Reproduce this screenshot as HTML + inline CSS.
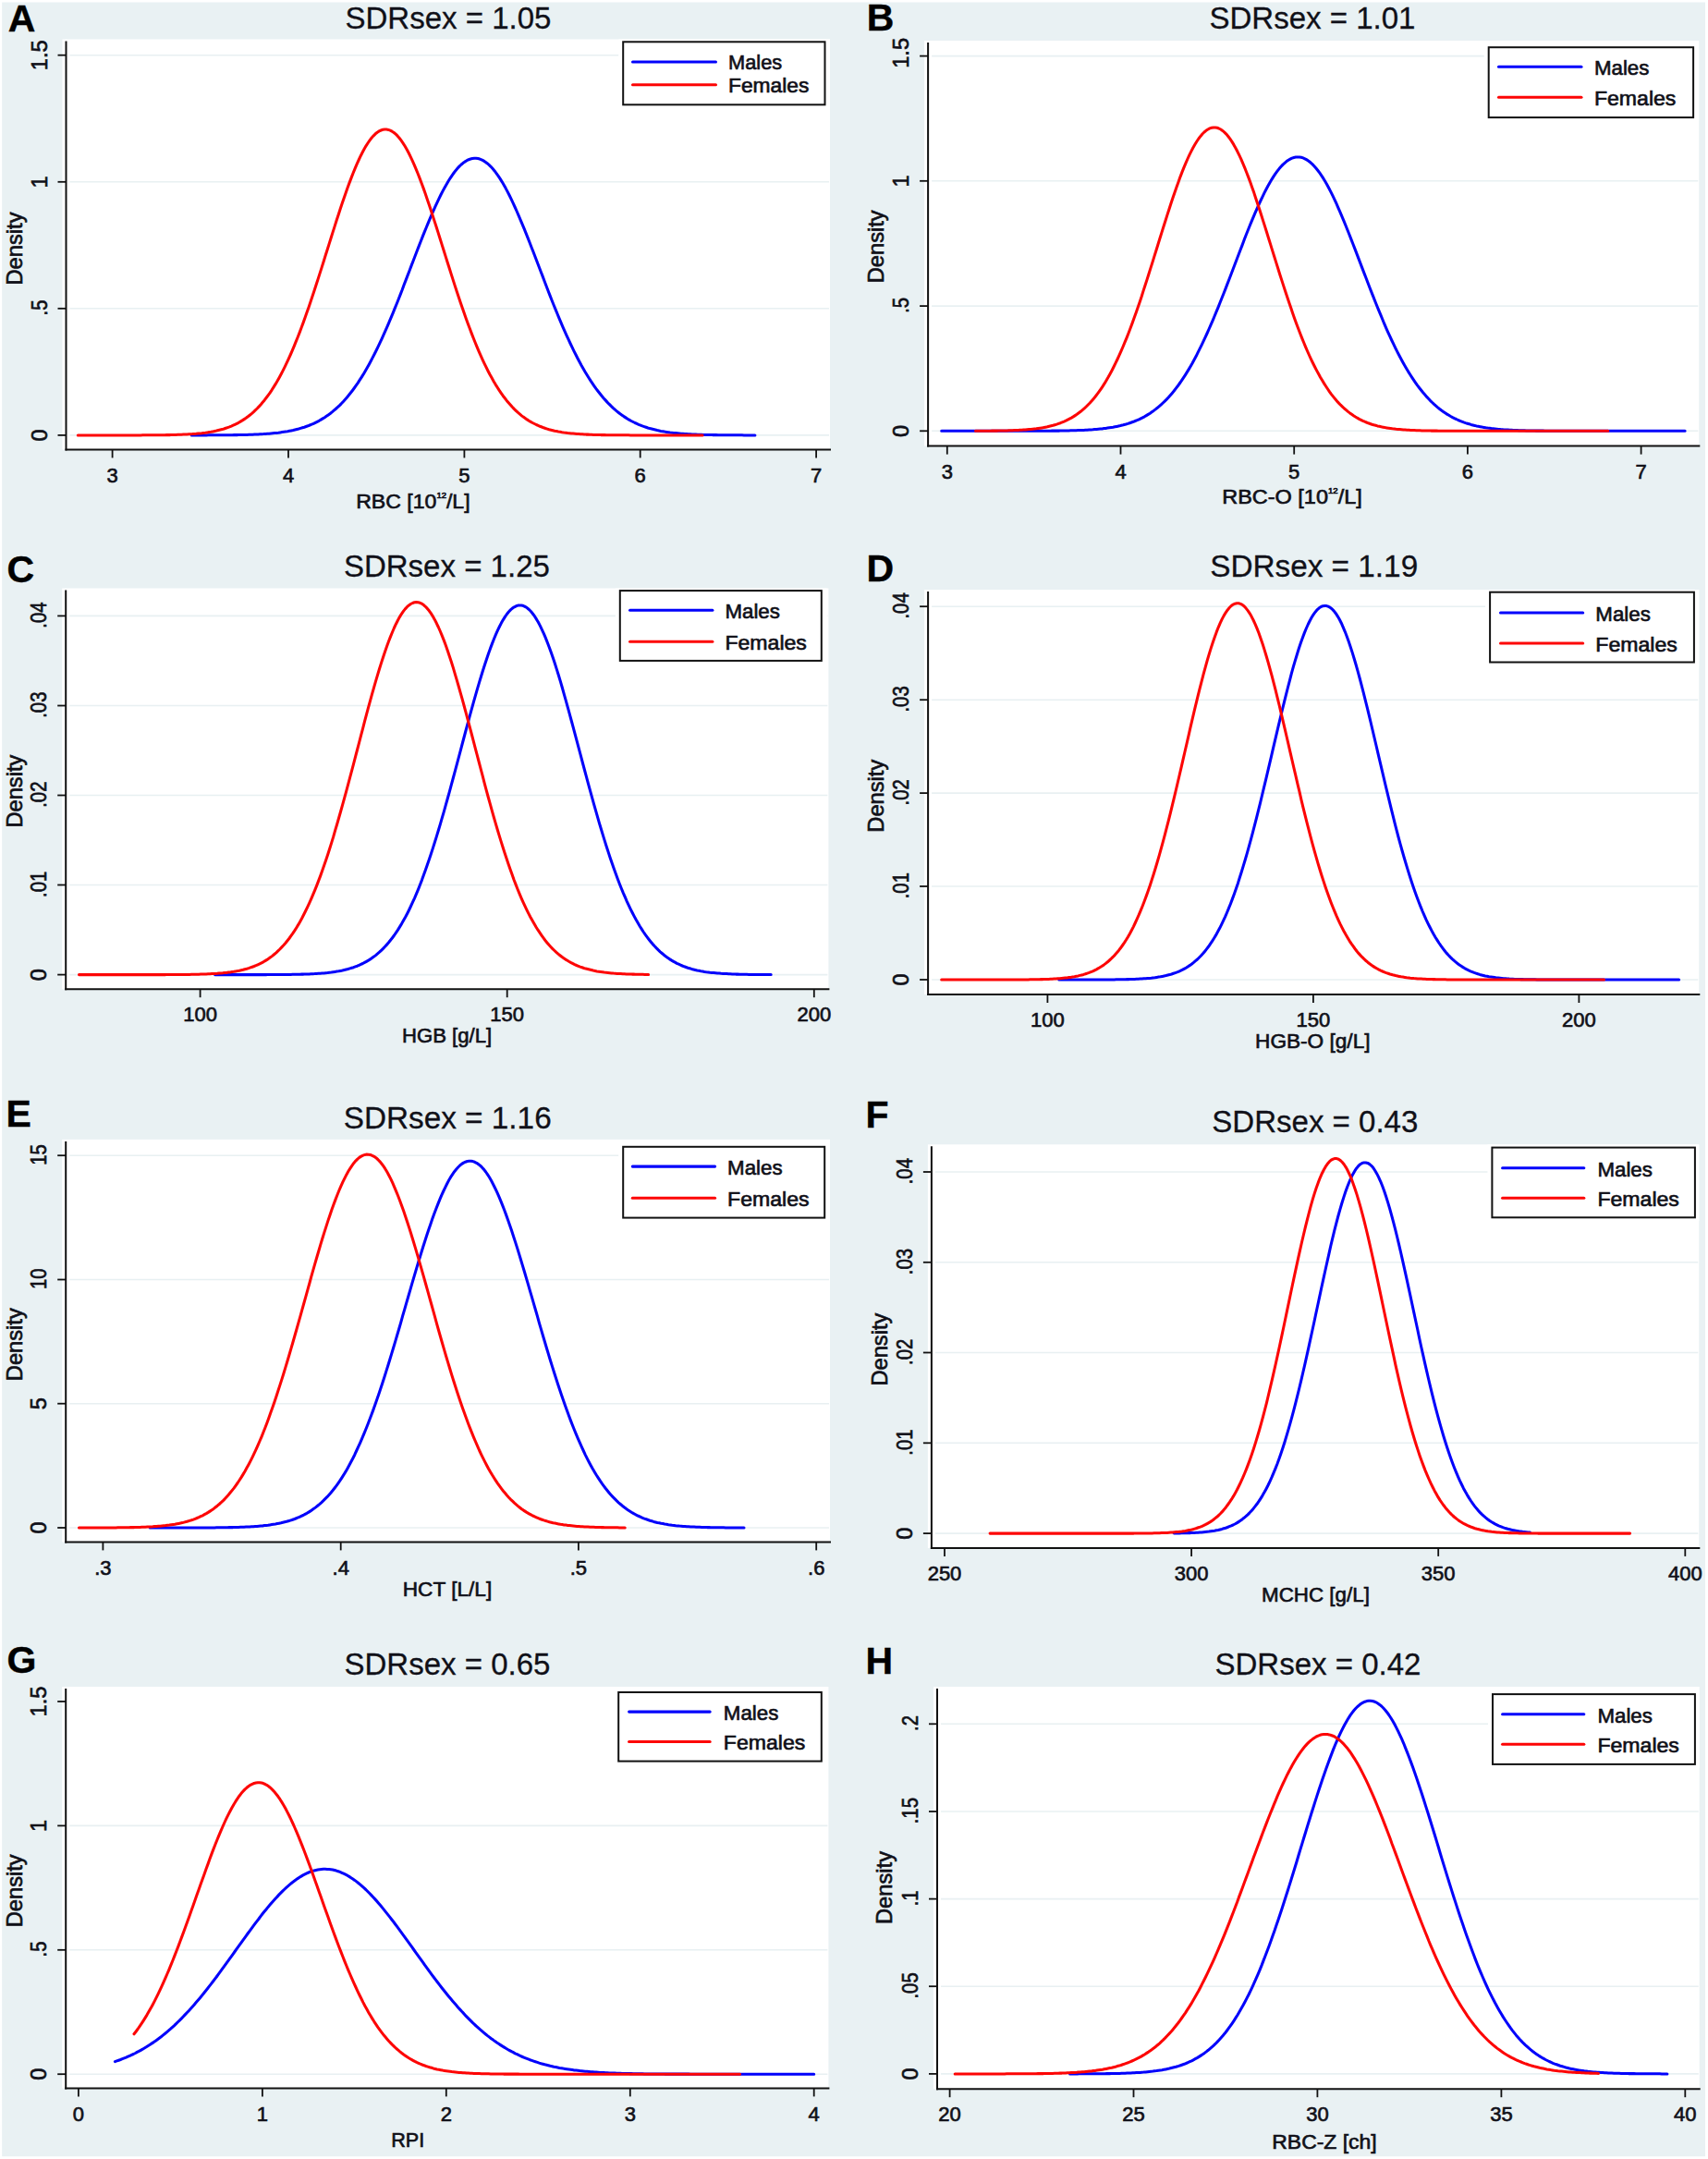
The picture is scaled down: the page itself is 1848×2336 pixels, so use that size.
<!DOCTYPE html>
<html lang="en">
<head>
<meta charset="utf-8">
<title>SDRsex density panels</title>
<style>
html,body{margin:0;padding:0;background:#fff;}
body{width:1848px;height:2336px;overflow:hidden;}
svg{display:block;font-family:"Liberation Sans",sans-serif;}
.t{font-size:22px;fill:#101018;stroke:#101018;stroke-width:.65;}
.ti{font-size:33.4px;fill:#101018;stroke:#101018;stroke-width:.3;}
.le{font-size:41px;font-weight:bold;fill:#000;stroke:#000;stroke-width:.4;}
.r{font-size:23.7px;}
.m{text-anchor:middle;}
.sup{font-size:9px;}
.g{stroke:#e8f0f2;stroke-width:1.6;}
.ax{stroke:#111;stroke-width:2;stroke-linecap:butt;}
.tk{stroke:#111;stroke-width:1.8;}
.lb{fill:#fff;stroke:#111;stroke-width:2;}
.cb{fill:none;stroke:#0202fb;stroke-width:3.05;stroke-linejoin:round;stroke-linecap:round;}
.cr{fill:none;stroke:#fd0505;stroke-width:3.05;stroke-linejoin:round;stroke-linecap:round;}
</style>
</head>
<body>
<svg width="1848" height="2336" viewBox="0 0 1848 2336">
<rect x="0" y="0" width="1848" height="2336" fill="#fff"/>
<rect x="2.2" y="2.5" width="1842.8" height="2330.7" fill="#e9f1f3"/>
<g class="panel">
<rect x="67.5" y="42.5" width="830.5" height="443.9" fill="#fff"/>
<line class="g" x1="75.5" y1="470.9" x2="897" y2="470.9"/>
<line class="g" x1="75.5" y1="333.8" x2="897" y2="333.8"/>
<line class="g" x1="75.5" y1="196.8" x2="897" y2="196.8"/>
<line class="g" x1="75.5" y1="59.7" x2="897" y2="59.7"/>
<polyline class="cb" points="207.3,470.9 209.3,470.9 211.3,470.9 213.3,470.9 215.3,470.9 217.3,470.9 219.3,470.9 221.3,470.9 223.3,470.9 225.3,470.8 227.3,470.8 229.3,470.8 231.3,470.8 233.3,470.8 235.3,470.8 237.3,470.8 239.3,470.8 241.3,470.8 243.3,470.7 245.3,470.7 247.3,470.7 249.3,470.7 251.3,470.7 253.3,470.6 255.3,470.6 257.3,470.6 259.3,470.5 261.3,470.5 263.3,470.5 265.3,470.4 267.3,470.4 269.3,470.3 271.3,470.2 273.3,470.2 275.3,470.1 277.3,470 279.3,469.9 281.3,469.8 283.3,469.7 285.2,469.6 287.2,469.4 289.2,469.3 291.2,469.2 293.2,469 295.2,468.8 297.2,468.6 299.2,468.4 301.2,468.2 303.2,467.9 305.2,467.6 307.2,467.3 309.2,467 311.2,466.7 313.2,466.3 315.2,465.9 317.2,465.5 319.2,465 321.2,464.5 323.2,464 325.2,463.4 327.2,462.8 329.2,462.2 331.2,461.5 333.2,460.8 335.2,460 337.2,459.2 339.2,458.3 341.2,457.3 343.2,456.3 345.2,455.3 347.2,454.1 349.2,452.9 351.2,451.7 353.2,450.3 355.2,448.9 357.2,447.5 359.2,445.9 361.2,444.2 363.2,442.5 365.2,440.7 367.2,438.8 369.2,436.8 371.2,434.7 373.2,432.5 375.2,430.2 377.2,427.8 379.2,425.3 381.2,422.7 383.2,420 385.2,417.2 387.2,414.3 389.2,411.2 391.2,408.1 393.2,404.9 395.2,401.5 397.2,398 399.2,394.4 401.2,390.7 403.2,386.9 405.2,383 407.2,379 409.2,374.9 411.2,370.7 413.2,366.4 415.2,361.9 417.2,357.4 419.2,352.8 421.2,348.2 423.2,343.4 425.2,338.6 427.2,333.7 429.2,328.7 431.2,323.7 433.2,318.6 435.2,313.5 437.1,308.3 439.1,303.1 441.1,297.9 443.1,292.7 445.1,287.4 447.1,282.2 449.1,277 451.1,271.8 453.1,266.6 455.1,261.5 457.1,256.4 459.1,251.4 461.1,246.5 463.1,241.6 465.1,236.8 467.1,232.1 469.1,227.6 471.1,223.1 473.1,218.8 475.1,214.6 477.1,210.5 479.1,206.6 481.1,202.9 483.1,199.4 485.1,196 487.1,192.8 489.1,189.8 491.1,187 493.1,184.4 495.1,182.1 497.1,179.9 499.1,178 501.1,176.3 503.1,174.9 505.1,173.7 507.1,172.7 509.1,172 511.1,171.5 513.1,171.3 515.1,171.3 517.1,171.6 519.1,172.1 521.1,172.9 523.1,173.9 525.1,175.2 527.1,176.7 529.1,178.4 531.1,180.3 533.1,182.5 535.1,184.9 537.1,187.6 539.1,190.4 541.1,193.4 543.1,196.6 545.1,200 547.1,203.6 549.1,207.4 551.1,211.3 553.1,215.4 555.1,219.6 557.1,224 559.1,228.5 561.1,233.1 563.1,237.8 565.1,242.6 567.1,247.4 569.1,252.4 571.1,257.4 573.1,262.5 575.1,267.7 577.1,272.8 579.1,278 581.1,283.3 583.1,288.5 585.1,293.7 587.1,298.9 589,304.1 591,309.3 593,314.5 595,319.6 597,324.7 599,329.7 601,334.6 603,339.5 605,344.3 607,349.1 609,353.8 611,358.3 613,362.8 615,367.2 617,371.5 619,375.7 621,379.8 623,383.8 625,387.7 627,391.5 629,395.2 631,398.7 633,402.2 635,405.5 637,408.7 639,411.9 641,414.9 643,417.8 645,420.6 647,423.2 649,425.8 651,428.3 653,430.7 655,432.9 657,435.1 659,437.2 661,439.2 663,441.1 665,442.9 667,444.6 669,446.2 671,447.8 673,449.2 675,450.6 677,451.9 679,453.2 681,454.4 683,455.5 685,456.5 687,457.5 689,458.4 691,459.3 693,460.1 695,460.9 697,461.6 699,462.3 701,463 703,463.6 705,464.1 707,464.6 709,465.1 711,465.6 713,466 715,466.4 717,466.7 719,467.1 721,467.4 723,467.7 725,468 727,468.2 729,468.4 731,468.6 733,468.8 735,469 737,469.2 739,469.3 740.9,469.5 742.9,469.6 744.9,469.7 746.9,469.8 748.9,469.9 750.9,470 752.9,470.1 754.9,470.2 756.9,470.2 758.9,470.3 760.9,470.4 762.9,470.4 764.9,470.5 766.9,470.5 768.9,470.5 770.9,470.6 772.9,470.6 774.9,470.6 776.9,470.7 778.9,470.7 780.9,470.7 782.9,470.7 784.9,470.8 786.9,470.8 788.9,470.8 790.9,470.8 792.9,470.8 794.9,470.8 796.9,470.8 798.9,470.8 800.9,470.8 802.9,470.8 804.9,470.9 806.9,470.9 808.9,470.9 810.9,470.9 812.9,470.9 814.9,470.9 816.9,470.9"/>
<polyline class="cr" points="84.3,470.9 86.3,470.9 88.3,470.9 90.3,470.9 92.3,470.9 94.3,470.9 96.3,470.9 98.3,470.9 100.3,470.9 102.3,470.9 104.3,470.9 106.3,470.9 108.3,470.9 110.3,470.9 112.3,470.9 114.3,470.9 116.3,470.9 118.3,470.9 120.3,470.9 122.3,470.9 124.3,470.9 126.3,470.9 128.3,470.9 130.3,470.9 132.3,470.9 134.3,470.9 136.3,470.9 138.3,470.9 140.3,470.9 142.3,470.9 144.3,470.9 146.3,470.9 148.3,470.9 150.3,470.9 152.3,470.9 154.3,470.8 156.3,470.8 158.3,470.8 160.3,470.8 162.3,470.8 164.3,470.8 166.3,470.8 168.3,470.8 170.3,470.8 172.3,470.7 174.3,470.7 176.3,470.7 178.3,470.7 180.3,470.6 182.3,470.6 184.3,470.6 186.3,470.5 188.3,470.5 190.3,470.4 192.3,470.3 194.3,470.3 196.3,470.2 198.3,470.1 200.3,470 202.3,469.9 204.3,469.8 206.3,469.7 208.3,469.6 210.3,469.4 212.3,469.3 214.3,469.1 216.3,468.9 218.3,468.7 220.3,468.4 222.3,468.2 224.3,467.9 226.3,467.6 228.3,467.3 230.3,466.9 232.3,466.5 234.3,466.1 236.3,465.6 238.3,465.1 240.3,464.6 242.3,464 244.3,463.3 246.3,462.6 248.3,461.9 250.3,461.1 252.3,460.2 254.2,459.3 256.2,458.3 258.2,457.3 260.2,456.1 262.2,454.9 264.2,453.6 266.2,452.3 268.2,450.8 270.2,449.2 272.2,447.6 274.2,445.8 276.2,443.9 278.2,442 280.2,439.9 282.2,437.7 284.2,435.3 286.2,432.9 288.2,430.3 290.2,427.6 292.2,424.8 294.2,421.8 296.2,418.6 298.2,415.4 300.2,412 302.2,408.4 304.2,404.7 306.2,400.9 308.2,396.9 310.2,392.7 312.2,388.4 314.2,384 316.2,379.4 318.2,374.6 320.2,369.7 322.2,364.7 324.2,359.6 326.2,354.3 328.2,348.9 330.2,343.3 332.2,337.6 334.2,331.9 336.2,326 338.2,320 340.2,314 342.2,307.8 344.2,301.6 346.2,295.4 348.2,289.1 350.2,282.7 352.2,276.3 354.2,270 356.2,263.6 358.2,257.2 360.2,250.9 362.2,244.6 364.2,238.3 366.2,232.2 368.2,226.1 370.2,220.1 372.2,214.2 374.2,208.4 376.2,202.8 378.2,197.4 380.2,192.1 382.2,187 384.2,182.1 386.2,177.4 388.2,173 390.2,168.7 392.2,164.8 394.2,161.1 396.2,157.6 398.2,154.5 400.2,151.6 402.2,149 404.2,146.8 406.2,144.8 408.2,143.2 410.2,141.9 412.2,141 414.2,140.3 416.2,140 418.2,140.1 420.2,140.4 422.2,141.1 424.2,142.2 426.2,143.5 428.2,145.2 430.2,147.2 432.2,149.5 434.2,152.2 436.2,155.1 438.2,158.3 440.2,161.8 442.2,165.5 444.2,169.6 446.2,173.8 448.2,178.3 450.2,183.1 452.2,188 454.2,193.1 456.2,198.5 458.2,203.9 460.2,209.6 462.2,215.4 464.2,221.3 466.2,227.3 468.2,233.4 470.2,239.6 472.2,245.8 474.2,252.1 476.2,258.5 478.2,264.9 480.2,271.3 482.2,277.6 484.2,284 486.2,290.3 488.2,296.6 490.2,302.9 492.2,309.1 494.2,315.2 496.2,321.2 498.2,327.2 500.2,333 502.2,338.8 504.2,344.4 506.2,350 508.2,355.3 510.2,360.6 512.2,365.7 514.2,370.7 516.2,375.6 518.2,380.3 520.2,384.9 522.2,389.3 524.2,393.6 526.2,397.7 528.2,401.7 530.2,405.5 532.2,409.1 534.2,412.7 536.2,416.1 538.2,419.3 540.2,422.4 542.2,425.3 544.2,428.2 546.2,430.8 548.2,433.4 550.2,435.8 552.2,438.1 554.2,440.3 556.2,442.4 558.2,444.3 560.2,446.2 562.2,447.9 564.2,449.6 566.2,451.1 568.2,452.5 570.2,453.9 572.2,455.2 574.2,456.4 576.2,457.5 578.2,458.5 580.2,459.5 582.2,460.4 584.2,461.3 586.2,462 588.2,462.8 590.2,463.5 592.1,464.1 594.1,464.7 596.1,465.2 598.1,465.7 600.1,466.2 602.1,466.6 604.1,467 606.1,467.3 608.1,467.7 610.1,468 612.1,468.2 614.1,468.5 616.1,468.7 618.1,468.9 620.1,469.1 622.1,469.3 624.1,469.5 626.1,469.6 628.1,469.7 630.1,469.8 632.1,470 634.1,470.1 636.1,470.1 638.1,470.2 640.1,470.3 642.1,470.4 644.1,470.4 646.1,470.5 648.1,470.5 650.1,470.6 652.1,470.6 654.1,470.6 656.1,470.7 658.1,470.7 660.1,470.7 662.1,470.7 664.1,470.8 666.1,470.8 668.1,470.8 670.1,470.8 672.1,470.8 674.1,470.8 676.1,470.8 678.1,470.8 680.1,470.8 682.1,470.9 684.1,470.9 686.1,470.9 688.1,470.9 690.1,470.9 692.1,470.9 694.1,470.9 696.1,470.9 698.1,470.9 700.1,470.9 702.1,470.9 704.1,470.9 706.1,470.9 708.1,470.9 710.1,470.9 712.1,470.9 714.1,470.9 716.1,470.9 718.1,470.9 720.1,470.9 722.1,470.9 724.1,470.9 726.1,470.9 728.1,470.9 730.1,470.9 732.1,470.9 734.1,470.9 736.1,470.9 738.1,470.9 740.1,470.9 742.1,470.9 744.1,470.9 746.1,470.9 748.1,470.9 750.1,470.9 752.1,470.9 754.1,470.9 756.1,470.9 758.1,470.9 760.1,470.9"/>
<line class="ax" x1="71.5" y1="44.5" x2="71.5" y2="487.4"/>
<line class="ax" x1="70.5" y1="486.4" x2="899" y2="486.4"/>
<line class="tk" x1="62.5" y1="470.9" x2="71.5" y2="470.9"/>
<text class="t r m" transform="translate(50.5 470.9) rotate(-90)">0</text>
<line class="tk" x1="62.5" y1="333.8" x2="71.5" y2="333.8"/>
<text class="t r m" transform="translate(50.5 333) rotate(-90) scale(.86 1)">.5</text>
<line class="tk" x1="62.5" y1="196.8" x2="71.5" y2="196.8"/>
<text class="t r m" transform="translate(50.5 196.8) rotate(-90)">1</text>
<line class="tk" x1="62.5" y1="59.7" x2="71.5" y2="59.7"/>
<text class="t r m" transform="translate(50.5 59.7) rotate(-90)">1.5</text>
<line class="tk" x1="121.6" y1="486.4" x2="121.6" y2="495.4"/>
<text class="t m" x="121.6" y="521.6">3</text>
<line class="tk" x1="312" y1="486.4" x2="312" y2="495.4"/>
<text class="t m" x="312" y="521.6">4</text>
<line class="tk" x1="502.4" y1="486.4" x2="502.4" y2="495.4"/>
<text class="t m" x="502.4" y="521.6">5</text>
<line class="tk" x1="692.7" y1="486.4" x2="692.7" y2="495.4"/>
<text class="t m" x="692.7" y="521.6">6</text>
<line class="tk" x1="883.1" y1="486.4" x2="883.1" y2="495.4"/>
<text class="t m" x="883.1" y="521.6">7</text>
<text class="t m" x="446.9" y="550.3" textLength="123.5" lengthAdjust="spacingAndGlyphs">RBC [10<tspan class="sup" dy="-11">12</tspan><tspan dy="11">/L]</tspan></text>
<text class="t r m" transform="translate(24 269) rotate(-90)">Density</text>
<text class="ti m" x="485" y="31" textLength="223" lengthAdjust="spacingAndGlyphs">SDRsex = 1.05</text>
<text class="le" x="8.7" y="33.6">A</text>
<rect x="669.2" y="42.5" width="228.8" height="74.8" fill="#fff"/>
<rect class="lb" x="674.2" y="45.3" width="218.3" height="68"/>
<line class="cb" x1="684.5" y1="66.9" x2="774.5" y2="66.9"/>
<line class="cr" x1="684.5" y1="91.8" x2="774.5" y2="91.8"/>
<text class="t" x="788" y="75.3" textLength="58.2" lengthAdjust="spacingAndGlyphs">Males</text>
<text class="t" x="788" y="100.2" textLength="87.3" lengthAdjust="spacingAndGlyphs">Females</text>
</g>
<g class="panel">
<rect x="1000.1" y="44" width="838.2" height="438.6" fill="#fff"/>
<line class="g" x1="1008.1" y1="466.3" x2="1837.3" y2="466.3"/>
<line class="g" x1="1008.1" y1="331.1" x2="1837.3" y2="331.1"/>
<line class="g" x1="1008.1" y1="195.8" x2="1837.3" y2="195.8"/>
<line class="g" x1="1008.1" y1="60.6" x2="1837.3" y2="60.6"/>
<polyline class="cb" points="1018.7,466.3 1020.7,466.3 1022.7,466.3 1024.7,466.3 1026.7,466.3 1028.7,466.3 1030.7,466.3 1032.7,466.3 1034.7,466.3 1036.7,466.3 1038.7,466.3 1040.7,466.3 1042.7,466.3 1044.6,466.3 1046.6,466.3 1048.6,466.3 1050.6,466.3 1052.6,466.3 1054.6,466.3 1056.6,466.3 1058.6,466.3 1060.6,466.3 1062.6,466.3 1064.6,466.3 1066.6,466.3 1068.6,466.3 1070.6,466.3 1072.6,466.3 1074.6,466.3 1076.6,466.3 1078.6,466.3 1080.6,466.3 1082.6,466.3 1084.6,466.3 1086.6,466.3 1088.6,466.3 1090.6,466.3 1092.6,466.3 1094.5,466.3 1096.5,466.3 1098.5,466.3 1100.5,466.3 1102.5,466.3 1104.5,466.3 1106.5,466.3 1108.5,466.3 1110.5,466.3 1112.5,466.3 1114.5,466.3 1116.5,466.3 1118.5,466.3 1120.5,466.2 1122.5,466.2 1124.5,466.2 1126.5,466.2 1128.5,466.2 1130.5,466.2 1132.5,466.2 1134.5,466.2 1136.5,466.2 1138.5,466.1 1140.5,466.1 1142.5,466.1 1144.4,466.1 1146.4,466.1 1148.4,466 1150.4,466 1152.4,466 1154.4,465.9 1156.4,465.9 1158.4,465.8 1160.4,465.8 1162.4,465.7 1164.4,465.7 1166.4,465.6 1168.4,465.5 1170.4,465.4 1172.4,465.4 1174.4,465.3 1176.4,465.2 1178.4,465 1180.4,464.9 1182.4,464.8 1184.4,464.6 1186.4,464.5 1188.4,464.3 1190.4,464.1 1192.4,463.9 1194.4,463.6 1196.3,463.4 1198.3,463.1 1200.3,462.8 1202.3,462.5 1204.3,462.2 1206.3,461.8 1208.3,461.4 1210.3,461 1212.3,460.6 1214.3,460.1 1216.3,459.5 1218.3,459 1220.3,458.4 1222.3,457.7 1224.3,457 1226.3,456.3 1228.3,455.5 1230.3,454.7 1232.3,453.8 1234.3,452.8 1236.3,451.8 1238.3,450.8 1240.3,449.6 1242.3,448.4 1244.3,447.2 1246.2,445.8 1248.2,444.4 1250.2,442.9 1252.2,441.3 1254.2,439.6 1256.2,437.9 1258.2,436 1260.2,434.1 1262.2,432.1 1264.2,430 1266.2,427.7 1268.2,425.4 1270.2,423 1272.2,420.4 1274.2,417.8 1276.2,415 1278.2,412.2 1280.2,409.2 1282.2,406.1 1284.2,402.9 1286.2,399.6 1288.2,396.2 1290.2,392.7 1292.2,389 1294.2,385.3 1296.1,381.4 1298.1,377.4 1300.1,373.3 1302.1,369.2 1304.1,364.9 1306.1,360.5 1308.1,356 1310.1,351.4 1312.1,346.8 1314.1,342 1316.1,337.2 1318.1,332.3 1320.1,327.3 1322.1,322.3 1324.1,317.2 1326.1,312.1 1328.1,306.9 1330.1,301.7 1332.1,296.5 1334.1,291.3 1336.1,286 1338.1,280.8 1340.1,275.5 1342.1,270.3 1344.1,265.1 1346,259.9 1348,254.8 1350,249.8 1352,244.8 1354,239.9 1356,235.1 1358,230.4 1360,225.8 1362,221.3 1364,217 1366,212.8 1368,208.7 1370,204.8 1372,201.1 1374,197.5 1376,194.1 1378,190.9 1380,187.9 1382,185.2 1384,182.6 1386,180.3 1388,178.1 1390,176.3 1392,174.6 1394,173.2 1395.9,172.1 1397.9,171.1 1399.9,170.5 1401.9,170.1 1403.9,169.9 1405.9,170 1407.9,170.3 1409.9,170.9 1411.9,171.8 1413.9,172.9 1415.9,174.2 1417.9,175.8 1419.9,177.6 1421.9,179.7 1423.9,182 1425.9,184.5 1427.9,187.2 1429.9,190.1 1431.9,193.2 1433.9,196.6 1435.9,200.1 1437.9,203.8 1439.9,207.6 1441.9,211.7 1443.9,215.8 1445.9,220.2 1447.8,224.6 1449.8,229.2 1451.8,233.8 1453.8,238.6 1455.8,243.5 1457.8,248.5 1459.8,253.5 1461.8,258.6 1463.8,263.7 1465.8,268.9 1467.8,274.1 1469.8,279.4 1471.8,284.6 1473.8,289.9 1475.8,295.1 1477.8,300.3 1479.8,305.5 1481.8,310.7 1483.8,315.9 1485.8,320.9 1487.8,326 1489.8,331 1491.8,335.9 1493.8,340.7 1495.8,345.5 1497.7,350.2 1499.7,354.8 1501.7,359.3 1503.7,363.7 1505.7,368 1507.7,372.2 1509.7,376.4 1511.7,380.4 1513.7,384.3 1515.7,388 1517.7,391.7 1519.7,395.3 1521.7,398.7 1523.7,402.1 1525.7,405.3 1527.7,408.4 1529.7,411.4 1531.7,414.3 1533.7,417.1 1535.7,419.7 1537.7,422.3 1539.7,424.8 1541.7,427.1 1543.7,429.4 1545.7,431.5 1547.6,433.6 1549.6,435.5 1551.6,437.4 1553.6,439.2 1555.6,440.9 1557.6,442.5 1559.6,444 1561.6,445.4 1563.6,446.8 1565.6,448.1 1567.6,449.3 1569.6,450.5 1571.6,451.6 1573.6,452.6 1575.6,453.5 1577.6,454.5 1579.6,455.3 1581.6,456.1 1583.6,456.9 1585.6,457.6 1587.6,458.2 1589.6,458.8 1591.6,459.4 1593.6,459.9 1595.6,460.4 1597.5,460.9 1599.5,461.3 1601.5,461.7 1603.5,462.1 1605.5,462.4 1607.5,462.8 1609.5,463.1 1611.5,463.3 1613.5,463.6 1615.5,463.8 1617.5,464 1619.5,464.2 1621.5,464.4 1623.5,464.6 1625.5,464.7 1627.5,464.9 1629.5,465 1631.5,465.1 1633.5,465.2 1635.5,465.3 1637.5,465.4 1639.5,465.5 1641.5,465.6 1643.5,465.7 1645.5,465.7 1647.4,465.8 1649.4,465.8 1651.4,465.9 1653.4,465.9 1655.4,466 1657.4,466 1659.4,466 1661.4,466.1 1663.4,466.1 1665.4,466.1 1667.4,466.1 1669.4,466.1 1671.4,466.2 1673.4,466.2 1675.4,466.2 1677.4,466.2 1679.4,466.2 1681.4,466.2 1683.4,466.2 1685.4,466.2 1687.4,466.2 1689.4,466.3 1691.4,466.3 1693.4,466.3 1695.4,466.3 1697.4,466.3 1699.3,466.3 1701.3,466.3 1703.3,466.3 1705.3,466.3 1707.3,466.3 1709.3,466.3 1711.3,466.3 1713.3,466.3 1715.3,466.3 1717.3,466.3 1719.3,466.3 1721.3,466.3 1723.3,466.3 1725.3,466.3 1727.3,466.3 1729.3,466.3 1731.3,466.3 1733.3,466.3 1735.3,466.3 1737.3,466.3 1739.3,466.3 1741.3,466.3 1743.3,466.3 1745.3,466.3 1747.3,466.3 1749.2,466.3 1751.2,466.3 1753.2,466.3 1755.2,466.3 1757.2,466.3 1759.2,466.3 1761.2,466.3 1763.2,466.3 1765.2,466.3 1767.2,466.3 1769.2,466.3 1771.2,466.3 1773.2,466.3 1775.2,466.3 1777.2,466.3 1779.2,466.3 1781.2,466.3 1783.2,466.3 1785.2,466.3 1787.2,466.3 1789.2,466.3 1791.2,466.3 1793.2,466.3 1795.2,466.3 1797.2,466.3 1799.1,466.3 1801.1,466.3 1803.1,466.3 1805.1,466.3 1807.1,466.3 1809.1,466.3 1811.1,466.3 1813.1,466.3 1815.1,466.3 1817.1,466.3 1819.1,466.3 1821.1,466.3 1823.1,466.3"/>
<polyline class="cr" points="1055.5,466.2 1057.5,466.2 1059.5,466.2 1061.5,466.2 1063.5,466.2 1065.5,466.2 1067.5,466.2 1069.5,466.2 1071.5,466.2 1073.5,466.1 1075.5,466.1 1077.4,466.1 1079.4,466.1 1081.4,466 1083.4,466 1085.4,466 1087.4,465.9 1089.4,465.9 1091.4,465.8 1093.4,465.7 1095.4,465.7 1097.4,465.6 1099.4,465.5 1101.4,465.4 1103.4,465.3 1105.4,465.2 1107.4,465.1 1109.4,465 1111.4,464.8 1113.4,464.6 1115.4,464.4 1117.3,464.2 1119.3,464 1121.3,463.8 1123.3,463.5 1125.3,463.2 1127.3,462.9 1129.3,462.6 1131.3,462.2 1133.3,461.8 1135.3,461.3 1137.3,460.8 1139.3,460.3 1141.3,459.7 1143.3,459.1 1145.3,458.4 1147.3,457.7 1149.3,456.9 1151.3,456.1 1153.3,455.2 1155.3,454.2 1157.2,453.2 1159.2,452.1 1161.2,450.9 1163.2,449.6 1165.2,448.3 1167.2,446.8 1169.2,445.3 1171.2,443.6 1173.2,441.9 1175.2,440 1177.2,438 1179.2,436 1181.2,433.8 1183.2,431.4 1185.2,429 1187.2,426.4 1189.2,423.7 1191.2,420.8 1193.2,417.8 1195.2,414.7 1197.1,411.4 1199.1,408 1201.1,404.4 1203.1,400.7 1205.1,396.8 1207.1,392.7 1209.1,388.5 1211.1,384.2 1213.1,379.7 1215.1,375 1217.1,370.2 1219.1,365.3 1221.1,360.2 1223.1,355 1225.1,349.6 1227.1,344.1 1229.1,338.5 1231.1,332.8 1233.1,326.9 1235.1,321 1237,314.9 1239,308.8 1241,302.6 1243,296.3 1245,289.9 1247,283.6 1249,277.1 1251,270.7 1253,264.3 1255,257.8 1257,251.4 1259,245 1261,238.7 1263,232.4 1265,226.2 1267,220.1 1269,214.1 1271,208.3 1273,202.6 1275,197 1276.9,191.6 1278.9,186.4 1280.9,181.4 1282.9,176.6 1284.9,172 1286.9,167.6 1288.9,163.6 1290.9,159.7 1292.9,156.2 1294.9,153 1296.9,150 1298.9,147.4 1300.9,145 1302.9,143 1304.9,141.3 1306.9,140 1308.9,138.9 1310.9,138.3 1312.9,137.9 1314.9,137.9 1316.9,138.3 1318.8,139 1320.8,140 1322.8,141.4 1324.8,143.1 1326.8,145.1 1328.8,147.5 1330.8,150.2 1332.8,153.1 1334.8,156.4 1336.8,160 1338.8,163.8 1340.8,167.9 1342.8,172.2 1344.8,176.8 1346.8,181.6 1348.8,186.7 1350.8,191.9 1352.8,197.3 1354.8,202.9 1356.8,208.6 1358.7,214.5 1360.7,220.5 1362.7,226.6 1364.7,232.8 1366.7,239.1 1368.7,245.4 1370.7,251.8 1372.7,258.2 1374.7,264.6 1376.7,271.1 1378.7,277.5 1380.7,283.9 1382.7,290.3 1384.7,296.7 1386.7,302.9 1388.7,309.1 1390.7,315.3 1392.7,321.3 1394.7,327.3 1396.7,333.1 1398.6,338.8 1400.6,344.4 1402.6,349.9 1404.6,355.3 1406.6,360.5 1408.6,365.6 1410.6,370.5 1412.6,375.3 1414.6,380 1416.6,384.5 1418.6,388.8 1420.6,393 1422.6,397 1424.6,400.9 1426.6,404.6 1428.6,408.2 1430.6,411.6 1432.6,414.9 1434.6,418 1436.6,421 1438.5,423.8 1440.5,426.6 1442.5,429.1 1444.5,431.6 1446.5,433.9 1448.5,436.1 1450.5,438.2 1452.5,440.1 1454.5,442 1456.5,443.7 1458.5,445.4 1460.5,446.9 1462.5,448.3 1464.5,449.7 1466.5,451 1468.5,452.2 1470.5,453.3 1472.5,454.3 1474.5,455.3 1476.5,456.2 1478.4,457 1480.4,457.8 1482.4,458.5 1484.4,459.2 1486.4,459.8 1488.4,460.3 1490.4,460.9 1492.4,461.3 1494.4,461.8 1496.4,462.2 1498.4,462.6 1500.4,462.9 1502.4,463.2 1504.4,463.5 1506.4,463.8 1508.4,464 1510.4,464.3 1512.4,464.5 1514.4,464.6 1516.4,464.8 1518.4,465 1520.3,465.1 1522.3,465.2 1524.3,465.3 1526.3,465.4 1528.3,465.5 1530.3,465.6 1532.3,465.7 1534.3,465.8 1536.3,465.8 1538.3,465.9 1540.3,465.9 1542.3,466 1544.3,466 1546.3,466 1548.3,466.1 1550.3,466.1 1552.3,466.1 1554.3,466.1 1556.3,466.2 1558.3,466.2 1560.2,466.2 1562.2,466.2 1564.2,466.2 1566.2,466.2 1568.2,466.2 1570.2,466.2 1572.2,466.2 1574.2,466.3 1576.2,466.3 1578.2,466.3 1580.2,466.3 1582.2,466.3 1584.2,466.3 1586.2,466.3 1588.2,466.3 1590.2,466.3 1592.2,466.3 1594.2,466.3 1596.2,466.3 1598.2,466.3 1600.1,466.3 1602.1,466.3 1604.1,466.3 1606.1,466.3 1608.1,466.3 1610.1,466.3 1612.1,466.3 1614.1,466.3 1616.1,466.3 1618.1,466.3 1620.1,466.3 1622.1,466.3 1624.1,466.3 1626.1,466.3 1628.1,466.3 1630.1,466.3 1632.1,466.3 1634.1,466.3 1636.1,466.3 1638.1,466.3 1640,466.3 1642,466.3 1644,466.3 1646,466.3 1648,466.3 1650,466.3 1652,466.3 1654,466.3 1656,466.3 1658,466.3 1660,466.3 1662,466.3 1664,466.3 1666,466.3 1668,466.3 1670,466.3 1672,466.3 1674,466.3 1676,466.3 1678,466.3 1679.9,466.3 1681.9,466.3 1683.9,466.3 1685.9,466.3 1687.9,466.3 1689.9,466.3 1691.9,466.3 1693.9,466.3 1695.9,466.3 1697.9,466.3 1699.9,466.3 1701.9,466.3 1703.9,466.3 1705.9,466.3 1707.9,466.3 1709.9,466.3 1711.9,466.3 1713.9,466.3 1715.9,466.3 1717.9,466.3 1719.8,466.3 1721.8,466.3 1723.8,466.3 1725.8,466.3 1727.8,466.3 1729.8,466.3 1731.8,466.3 1733.8,466.3 1735.8,466.3 1737.8,466.3 1739.8,466.3"/>
<line class="ax" x1="1004.1" y1="46" x2="1004.1" y2="483.6"/>
<line class="ax" x1="1003.1" y1="482.6" x2="1839.3" y2="482.6"/>
<line class="tk" x1="995.1" y1="466.3" x2="1004.1" y2="466.3"/>
<text class="t r m" transform="translate(983.1 466.3) rotate(-90)">0</text>
<line class="tk" x1="995.1" y1="331.1" x2="1004.1" y2="331.1"/>
<text class="t r m" transform="translate(983.1 330.3) rotate(-90) scale(.86 1)">.5</text>
<line class="tk" x1="995.1" y1="195.8" x2="1004.1" y2="195.8"/>
<text class="t r m" transform="translate(983.1 195.8) rotate(-90)">1</text>
<line class="tk" x1="995.1" y1="60.6" x2="1004.1" y2="60.6"/>
<text class="t r m" transform="translate(983.1 57.4) rotate(-90)">1.5</text>
<line class="tk" x1="1024.8" y1="482.6" x2="1024.8" y2="491.6"/>
<text class="t m" x="1024.8" y="517.8">3</text>
<line class="tk" x1="1212.5" y1="482.6" x2="1212.5" y2="491.6"/>
<text class="t m" x="1212.5" y="517.8">4</text>
<line class="tk" x1="1400.2" y1="482.6" x2="1400.2" y2="491.6"/>
<text class="t m" x="1400.2" y="517.8">5</text>
<line class="tk" x1="1587.9" y1="482.6" x2="1587.9" y2="491.6"/>
<text class="t m" x="1587.9" y="517.8">6</text>
<line class="tk" x1="1775.6" y1="482.6" x2="1775.6" y2="491.6"/>
<text class="t m" x="1775.6" y="517.8">7</text>
<text class="t m" x="1398" y="545.4" textLength="151.5" lengthAdjust="spacingAndGlyphs">RBC-O [10<tspan class="sup" dy="-11">12</tspan><tspan dy="11">/L]</tspan></text>
<text class="t r m" transform="translate(956.3 266.8) rotate(-90)">Density</text>
<text class="ti m" x="1420" y="31" textLength="223" lengthAdjust="spacingAndGlyphs">SDRsex = 1.01</text>
<text class="le" x="937.8" y="33.4">B</text>
<rect x="1605.7" y="47.2" width="232.4" height="83.9" fill="#fff"/>
<rect class="lb" x="1610.7" y="51.2" width="221.4" height="75.9"/>
<line class="cb" x1="1621.5" y1="72.3" x2="1711" y2="72.3"/>
<line class="cr" x1="1621.5" y1="105.2" x2="1711" y2="105.2"/>
<text class="t" x="1724.9" y="81.2" textLength="59.5" lengthAdjust="spacingAndGlyphs">Males</text>
<text class="t" x="1724.9" y="114.1" textLength="88.5" lengthAdjust="spacingAndGlyphs">Females</text>
</g>
<g class="panel">
<rect x="67.2" y="636.5" width="829.2" height="433.7" fill="#fff"/>
<line class="g" x1="75.2" y1="1054.6" x2="895.4" y2="1054.6"/>
<line class="g" x1="75.2" y1="957.5" x2="895.4" y2="957.5"/>
<line class="g" x1="75.2" y1="860.5" x2="895.4" y2="860.5"/>
<line class="g" x1="75.2" y1="763.5" x2="895.4" y2="763.5"/>
<line class="g" x1="75.2" y1="666.4" x2="895.4" y2="666.4"/>
<polyline class="cb" points="232.6,1054.6 234.6,1054.6 236.6,1054.6 238.6,1054.6 240.6,1054.6 242.6,1054.6 244.6,1054.6 246.6,1054.6 248.6,1054.6 250.6,1054.6 252.6,1054.6 254.6,1054.6 256.6,1054.6 258.6,1054.6 260.6,1054.6 262.6,1054.6 264.6,1054.6 266.6,1054.6 268.6,1054.6 270.6,1054.6 272.6,1054.6 274.6,1054.6 276.6,1054.6 278.6,1054.6 280.6,1054.6 282.6,1054.6 284.6,1054.6 286.6,1054.6 288.6,1054.6 290.6,1054.5 292.6,1054.5 294.6,1054.5 296.6,1054.5 298.6,1054.5 300.6,1054.5 302.6,1054.5 304.6,1054.5 306.6,1054.5 308.5,1054.4 310.5,1054.4 312.5,1054.4 314.5,1054.4 316.5,1054.3 318.5,1054.3 320.5,1054.3 322.5,1054.2 324.5,1054.2 326.5,1054.1 328.5,1054.1 330.5,1054 332.5,1053.9 334.5,1053.9 336.5,1053.8 338.5,1053.7 340.5,1053.6 342.5,1053.4 344.5,1053.3 346.5,1053.2 348.5,1053 350.5,1052.9 352.5,1052.7 354.5,1052.5 356.5,1052.2 358.5,1052 360.5,1051.7 362.5,1051.4 364.5,1051.1 366.5,1050.8 368.5,1050.4 370.5,1050 372.5,1049.5 374.5,1049 376.5,1048.5 378.5,1047.9 380.5,1047.3 382.5,1046.7 384.5,1045.9 386.5,1045.2 388.5,1044.3 390.5,1043.4 392.5,1042.5 394.5,1041.4 396.5,1040.3 398.5,1039.2 400.5,1037.9 402.5,1036.5 404.5,1035.1 406.5,1033.6 408.5,1031.9 410.5,1030.2 412.5,1028.3 414.5,1026.4 416.5,1024.3 418.5,1022.1 420.5,1019.8 422.5,1017.3 424.5,1014.7 426.5,1012 428.5,1009.1 430.5,1006.1 432.5,1002.9 434.5,999.6 436.5,996.1 438.5,992.5 440.5,988.7 442.5,984.7 444.5,980.5 446.5,976.2 448.5,971.8 450.5,967.1 452.5,962.3 454.5,957.3 456.5,952.1 458.4,946.8 460.4,941.3 462.4,935.6 464.4,929.8 466.4,923.8 468.4,917.6 470.4,911.3 472.4,904.9 474.4,898.3 476.4,891.6 478.4,884.7 480.4,877.8 482.4,870.7 484.4,863.5 486.4,856.3 488.4,848.9 490.4,841.5 492.4,834.1 494.4,826.6 496.4,819.1 498.4,811.6 500.4,804 502.4,796.5 504.4,789 506.4,781.6 508.4,774.2 510.4,766.9 512.4,759.7 514.4,752.7 516.4,745.7 518.4,738.9 520.4,732.2 522.4,725.8 524.4,719.5 526.4,713.4 528.4,707.6 530.4,701.9 532.4,696.6 534.4,691.5 536.4,686.7 538.4,682.2 540.4,678 542.4,674.1 544.4,670.6 546.4,667.4 548.4,664.5 550.4,662 552.4,659.9 554.4,658.1 556.4,656.8 558.4,655.8 560.4,655.1 562.4,654.9 564.4,655.1 566.4,655.6 568.4,656.5 570.4,657.8 572.4,659.5 574.4,661.5 576.4,664 578.4,666.7 580.4,669.9 582.4,673.3 584.4,677.1 586.4,681.3 588.4,685.7 590.4,690.4 592.4,695.5 594.4,700.7 596.4,706.3 598.4,712.1 600.4,718.1 602.4,724.4 604.4,730.8 606.4,737.4 608.4,744.2 610.3,751.1 612.3,758.2 614.3,765.4 616.3,772.6 618.3,780 620.3,787.4 622.3,794.9 624.3,802.4 626.3,809.9 628.3,817.4 630.3,825 632.3,832.5 634.3,839.9 636.3,847.3 638.3,854.7 640.3,861.9 642.3,869.1 644.3,876.2 646.3,883.2 648.3,890.1 650.3,896.8 652.3,903.4 654.3,909.9 656.3,916.2 658.3,922.4 660.3,928.5 662.3,934.3 664.3,940 666.3,945.6 668.3,951 670.3,956.2 672.3,961.2 674.3,966.1 676.3,970.7 678.3,975.3 680.3,979.6 682.3,983.8 684.3,987.8 686.3,991.6 688.3,995.3 690.3,998.8 692.3,1002.2 694.3,1005.4 696.3,1008.5 698.3,1011.4 700.3,1014.1 702.3,1016.7 704.3,1019.2 706.3,1021.6 708.3,1023.8 710.3,1025.9 712.3,1027.9 714.3,1029.8 716.3,1031.5 718.3,1033.2 720.3,1034.8 722.3,1036.2 724.3,1037.6 726.3,1038.9 728.3,1040.1 730.3,1041.2 732.3,1042.3 734.3,1043.2 736.3,1044.1 738.3,1045 740.3,1045.8 742.3,1046.5 744.3,1047.2 746.3,1047.8 748.3,1048.4 750.3,1048.9 752.3,1049.4 754.3,1049.9 756.3,1050.3 758.3,1050.7 760.2,1051 762.2,1051.4 764.2,1051.7 766.2,1051.9 768.2,1052.2 770.2,1052.4 772.2,1052.6 774.2,1052.8 776.2,1053 778.2,1053.1 780.2,1053.3 782.2,1053.4 784.2,1053.5 786.2,1053.6 788.2,1053.7 790.2,1053.8 792.2,1053.9 794.2,1054 796.2,1054.1 798.2,1054.1 800.2,1054.2 802.2,1054.2 804.2,1054.3 806.2,1054.3 808.2,1054.3 810.2,1054.4 812.2,1054.4 814.2,1054.4 816.2,1054.4 818.2,1054.5 820.2,1054.5 822.2,1054.5 824.2,1054.5 826.2,1054.5 828.2,1054.5 830.2,1054.5 832.2,1054.5 834.2,1054.5"/>
<polyline class="cr" points="85.5,1054.6 87.5,1054.6 89.5,1054.6 91.5,1054.6 93.5,1054.6 95.5,1054.6 97.5,1054.6 99.5,1054.6 101.5,1054.6 103.4,1054.6 105.4,1054.6 107.4,1054.6 109.4,1054.6 111.4,1054.6 113.4,1054.6 115.4,1054.6 117.4,1054.6 119.4,1054.6 121.4,1054.6 123.4,1054.6 125.4,1054.6 127.4,1054.6 129.4,1054.6 131.4,1054.6 133.4,1054.6 135.3,1054.6 137.3,1054.6 139.3,1054.6 141.3,1054.6 143.3,1054.6 145.3,1054.6 147.3,1054.6 149.3,1054.6 151.3,1054.6 153.3,1054.6 155.3,1054.6 157.3,1054.6 159.3,1054.6 161.3,1054.6 163.3,1054.6 165.3,1054.6 167.2,1054.6 169.2,1054.6 171.2,1054.6 173.2,1054.6 175.2,1054.6 177.2,1054.6 179.2,1054.6 181.2,1054.5 183.2,1054.5 185.2,1054.5 187.2,1054.5 189.2,1054.5 191.2,1054.5 193.2,1054.5 195.2,1054.5 197.2,1054.4 199.1,1054.4 201.1,1054.4 203.1,1054.4 205.1,1054.4 207.1,1054.3 209.1,1054.3 211.1,1054.2 213.1,1054.2 215.1,1054.2 217.1,1054.1 219.1,1054 221.1,1054 223.1,1053.9 225.1,1053.8 227.1,1053.7 229.1,1053.6 231.1,1053.5 233,1053.4 235,1053.3 237,1053.1 239,1052.9 241,1052.8 243,1052.6 245,1052.4 247,1052.1 249,1051.9 251,1051.6 253,1051.3 255,1050.9 257,1050.6 259,1050.2 261,1049.7 263,1049.3 264.9,1048.7 266.9,1048.2 268.9,1047.6 270.9,1046.9 272.9,1046.2 274.9,1045.5 276.9,1044.7 278.9,1043.8 280.9,1042.9 282.9,1041.9 284.9,1040.8 286.9,1039.6 288.9,1038.4 290.9,1037 292.9,1035.6 294.9,1034.1 296.8,1032.5 298.8,1030.8 300.8,1028.9 302.8,1027 304.8,1024.9 306.8,1022.8 308.8,1020.5 310.8,1018 312.8,1015.5 314.8,1012.7 316.8,1009.9 318.8,1006.9 320.8,1003.7 322.8,1000.4 324.8,996.9 326.8,993.3 328.7,989.5 330.7,985.5 332.7,981.4 334.7,977.1 336.7,972.6 338.7,967.9 340.7,963.1 342.7,958.1 344.7,952.9 346.7,947.6 348.7,942 350.7,936.3 352.7,930.5 354.7,924.4 356.7,918.2 358.7,911.9 360.7,905.4 362.6,898.7 364.6,892 366.6,885 368.6,878 370.6,870.9 372.6,863.6 374.6,856.3 376.6,848.9 378.6,841.4 380.6,833.8 382.6,826.3 384.6,818.6 386.6,811 388.6,803.4 390.6,795.7 392.6,788.1 394.5,780.6 396.5,773.1 398.5,765.7 400.5,758.4 402.5,751.2 404.5,744.1 406.5,737.2 408.5,730.4 410.5,723.8 412.5,717.4 414.5,711.2 416.5,705.3 418.5,699.6 420.5,694.1 422.5,688.9 424.5,684 426.4,679.5 428.4,675.2 430.4,671.2 432.4,667.6 434.4,664.3 436.4,661.4 438.4,658.9 440.4,656.7 442.4,654.9 444.4,653.5 446.4,652.5 448.4,651.8 450.4,651.6 452.4,651.8 454.4,652.3 456.4,653.2 458.4,654.6 460.3,656.3 462.3,658.4 464.3,660.8 466.3,663.7 468.3,666.8 470.3,670.4 472.3,674.3 474.3,678.5 476.3,683 478.3,687.8 480.3,692.9 482.3,698.3 484.3,704 486.3,709.9 488.3,716 490.3,722.4 492.2,728.9 494.2,735.6 496.2,742.5 498.2,749.6 500.2,756.7 502.2,764 504.2,771.4 506.2,778.9 508.2,786.4 510.2,794 512.2,801.6 514.2,809.3 516.2,816.9 518.2,824.5 520.2,832.1 522.2,839.7 524.1,847.2 526.1,854.6 528.1,862 530.1,869.2 532.1,876.4 534.1,883.5 536.1,890.4 538.1,897.2 540.1,903.9 542.1,910.4 544.1,916.8 546.1,923 548.1,929.1 550.1,935 552.1,940.8 554.1,946.3 556,951.7 558,956.9 560,962 562,966.9 564,971.6 566,976.1 568,980.4 570,984.6 572,988.6 574,992.5 576,996.1 578,999.6 580,1003 582,1006.2 584,1009.2 586,1012.1 588,1014.9 589.9,1017.5 591.9,1019.9 593.9,1022.3 595.9,1024.5 597.9,1026.6 599.9,1028.5 601.9,1030.4 603.9,1032.1 605.9,1033.7 607.9,1035.3 609.9,1036.7 611.9,1038.1 613.9,1039.3 615.9,1040.5 617.9,1041.6 619.9,1042.6 621.8,1043.6 623.8,1044.5 625.8,1045.3 627.8,1046.1 629.8,1046.8 631.8,1047.5 633.8,1048.1 635.8,1048.6 637.8,1049.1 639.8,1049.6 641.8,1050.1 643.8,1050.5 645.8,1050.9 647.8,1051.2 649.8,1051.5 651.8,1051.8 653.7,1052.1 655.7,1052.3 657.7,1052.5 659.7,1052.7 661.7,1052.9 663.7,1053.1 665.7,1053.2 667.7,1053.4 669.7,1053.5 671.7,1053.6 673.7,1053.7 675.7,1053.8 677.7,1053.9 679.7,1054 681.7,1054 683.7,1054.1 685.6,1054.1 687.6,1054.2 689.6,1054.2 691.6,1054.3 693.6,1054.3 695.6,1054.3 697.6,1054.4 699.6,1054.4 701.6,1054.4"/>
<line class="ax" x1="71.2" y1="638.5" x2="71.2" y2="1071.2"/>
<line class="ax" x1="70.2" y1="1070.2" x2="897.4" y2="1070.2"/>
<line class="tk" x1="62.2" y1="1054.6" x2="71.2" y2="1054.6"/>
<text class="t r m" transform="translate(50.2 1054.6) rotate(-90)">0</text>
<line class="tk" x1="62.2" y1="957.5" x2="71.2" y2="957.5"/>
<text class="t r m" transform="translate(50.2 956.8) rotate(-90) scale(.86 1)">.01</text>
<line class="tk" x1="62.2" y1="860.5" x2="71.2" y2="860.5"/>
<text class="t r m" transform="translate(50.2 859.7) rotate(-90) scale(.86 1)">.02</text>
<line class="tk" x1="62.2" y1="763.5" x2="71.2" y2="763.5"/>
<text class="t r m" transform="translate(50.2 762.7) rotate(-90) scale(.86 1)">.03</text>
<line class="tk" x1="62.2" y1="666.4" x2="71.2" y2="666.4"/>
<text class="t r m" transform="translate(50.2 665.6) rotate(-90) scale(.86 1)">.04</text>
<line class="tk" x1="216.6" y1="1070.2" x2="216.6" y2="1079.2"/>
<text class="t m" x="216.6" y="1105.4">100</text>
<line class="tk" x1="548.7" y1="1070.2" x2="548.7" y2="1079.2"/>
<text class="t m" x="548.7" y="1105.4">150</text>
<line class="tk" x1="880.8" y1="1070.2" x2="880.8" y2="1079.2"/>
<text class="t m" x="880.8" y="1105.4">200</text>
<text class="t m" x="483.6" y="1128.1" textLength="97.2" lengthAdjust="spacingAndGlyphs">HGB [g/L]</text>
<text class="t r m" transform="translate(24 856.1) rotate(-90)">Density</text>
<text class="ti m" x="483.4" y="623.6" textLength="223" lengthAdjust="spacingAndGlyphs">SDRsex = 1.25</text>
<text class="le" x="7.5" y="630">C</text>
<rect x="665.8" y="636.5" width="229" height="82.4" fill="#fff"/>
<rect class="lb" x="670.8" y="639.1" width="218" height="75.8"/>
<line class="cb" x1="681.6" y1="660.2" x2="770.9" y2="660.2"/>
<line class="cr" x1="681.6" y1="694.3" x2="770.9" y2="694.3"/>
<text class="t" x="784.4" y="669.1" textLength="59.5" lengthAdjust="spacingAndGlyphs">Males</text>
<text class="t" x="784.4" y="703.2" textLength="88.5" lengthAdjust="spacingAndGlyphs">Females</text>
</g>
<g class="panel">
<rect x="1000.1" y="638.1" width="838.2" height="437.9" fill="#fff"/>
<line class="g" x1="1008.1" y1="1060" x2="1837.3" y2="1060"/>
<line class="g" x1="1008.1" y1="959" x2="1837.3" y2="959"/>
<line class="g" x1="1008.1" y1="858.1" x2="1837.3" y2="858.1"/>
<line class="g" x1="1008.1" y1="757.2" x2="1837.3" y2="757.2"/>
<line class="g" x1="1008.1" y1="656.2" x2="1837.3" y2="656.2"/>
<polyline class="cb" points="1145.8,1060 1147.8,1060 1149.8,1060 1151.8,1060 1153.8,1060 1155.8,1060 1157.8,1060 1159.8,1060 1161.8,1060 1163.8,1060 1165.8,1060 1167.8,1060 1169.8,1060 1171.8,1060 1173.8,1060 1175.7,1060 1177.7,1060 1179.7,1060 1181.7,1060 1183.7,1060 1185.7,1060 1187.7,1060 1189.7,1060 1191.7,1059.9 1193.7,1059.9 1195.7,1059.9 1197.7,1059.9 1199.7,1059.9 1201.7,1059.9 1203.7,1059.9 1205.7,1059.9 1207.7,1059.8 1209.7,1059.8 1211.7,1059.8 1213.7,1059.7 1215.7,1059.7 1217.7,1059.7 1219.7,1059.6 1221.7,1059.6 1223.7,1059.5 1225.7,1059.4 1227.7,1059.4 1229.6,1059.3 1231.6,1059.2 1233.6,1059.1 1235.6,1059 1237.6,1058.8 1239.6,1058.7 1241.6,1058.5 1243.6,1058.4 1245.6,1058.2 1247.6,1057.9 1249.6,1057.7 1251.6,1057.4 1253.6,1057.1 1255.6,1056.8 1257.6,1056.4 1259.6,1056 1261.6,1055.6 1263.6,1055.1 1265.6,1054.6 1267.6,1054 1269.6,1053.3 1271.6,1052.6 1273.6,1051.9 1275.6,1051.1 1277.6,1050.2 1279.6,1049.2 1281.6,1048.1 1283.6,1047 1285.5,1045.7 1287.5,1044.4 1289.5,1043 1291.5,1041.4 1293.5,1039.7 1295.5,1038 1297.5,1036 1299.5,1034 1301.5,1031.8 1303.5,1029.4 1305.5,1026.9 1307.5,1024.3 1309.5,1021.4 1311.5,1018.4 1313.5,1015.2 1315.5,1011.9 1317.5,1008.3 1319.5,1004.6 1321.5,1000.6 1323.5,996.4 1325.5,992.1 1327.5,987.5 1329.5,982.7 1331.5,977.7 1333.5,972.4 1335.5,967 1337.5,961.3 1339.5,955.4 1341.4,949.3 1343.4,943 1345.4,936.4 1347.4,929.7 1349.4,922.8 1351.4,915.6 1353.4,908.3 1355.4,900.8 1357.4,893.1 1359.4,885.3 1361.4,877.4 1363.4,869.3 1365.4,861 1367.4,852.7 1369.4,844.3 1371.4,835.9 1373.4,827.3 1375.4,818.8 1377.4,810.2 1379.4,801.7 1381.4,793.2 1383.4,784.7 1385.4,776.3 1387.4,768 1389.4,759.9 1391.4,751.9 1393.4,744 1395.4,736.4 1397.3,728.9 1399.3,721.7 1401.3,714.8 1403.3,708.2 1405.3,701.8 1407.3,695.8 1409.3,690.2 1411.3,684.9 1413.3,680 1415.3,675.5 1417.3,671.5 1419.3,667.8 1421.3,664.6 1423.3,661.9 1425.3,659.6 1427.3,657.8 1429.3,656.5 1431.3,655.7 1433.3,655.4 1435.3,655.6 1437.3,656.2 1439.3,657.4 1441.3,659 1443.3,661.1 1445.3,663.7 1447.3,666.8 1449.3,670.3 1451.3,674.2 1453.2,678.6 1455.2,683.3 1457.2,688.5 1459.2,694 1461.2,699.9 1463.2,706.1 1465.2,712.7 1467.2,719.5 1469.2,726.6 1471.2,734 1473.2,741.6 1475.2,749.4 1477.2,757.3 1479.2,765.4 1481.2,773.7 1483.2,782 1485.2,790.5 1487.2,799 1489.2,807.5 1491.2,816.1 1493.2,824.6 1495.2,833.2 1497.2,841.7 1499.2,850.1 1501.2,858.4 1503.2,866.7 1505.2,874.8 1507.2,882.8 1509.1,890.7 1511.1,898.4 1513.1,906 1515.1,913.3 1517.1,920.5 1519.1,927.5 1521.1,934.3 1523.1,940.9 1525.1,947.3 1527.1,953.5 1529.1,959.5 1531.1,965.2 1533.1,970.7 1535.1,976 1537.1,981.1 1539.1,986 1541.1,990.6 1543.1,995.1 1545.1,999.3 1547.1,1003.3 1549.1,1007.1 1551.1,1010.8 1553.1,1014.2 1555.1,1017.4 1557.1,1020.5 1559.1,1023.4 1561.1,1026.1 1563.1,1028.7 1565,1031.1 1567,1033.3 1569,1035.4 1571,1037.4 1573,1039.2 1575,1040.9 1577,1042.5 1579,1044 1581,1045.3 1583,1046.6 1585,1047.8 1587,1048.9 1589,1049.9 1591,1050.8 1593,1051.6 1595,1052.4 1597,1053.1 1599,1053.8 1601,1054.4 1603,1054.9 1605,1055.4 1607,1055.9 1609,1056.3 1611,1056.7 1613,1057 1615,1057.3 1617,1057.6 1619,1057.9 1620.9,1058.1 1622.9,1058.3 1624.9,1058.5 1626.9,1058.7 1628.9,1058.8 1630.9,1058.9 1632.9,1059.1 1634.9,1059.2 1636.9,1059.3 1638.9,1059.4 1640.9,1059.4 1642.9,1059.5 1644.9,1059.6 1646.9,1059.6 1648.9,1059.7 1650.9,1059.7 1652.9,1059.7 1654.9,1059.8 1656.9,1059.8 1658.9,1059.8 1660.9,1059.8 1662.9,1059.9 1664.9,1059.9 1666.9,1059.9 1668.9,1059.9 1670.9,1059.9 1672.9,1059.9 1674.9,1059.9 1676.8,1060 1678.8,1060 1680.8,1060 1682.8,1060 1684.8,1060 1686.8,1060 1688.8,1060 1690.8,1060 1692.8,1060 1694.8,1060 1696.8,1060 1698.8,1060 1700.8,1060 1702.8,1060 1704.8,1060 1706.8,1060 1708.8,1060 1710.8,1060 1712.8,1060 1714.8,1060 1716.8,1060 1718.8,1060 1720.8,1060 1722.8,1060 1724.8,1060 1726.8,1060 1728.8,1060 1730.8,1060 1732.8,1060 1734.7,1060 1736.7,1060 1738.7,1060 1740.7,1060 1742.7,1060 1744.7,1060 1746.7,1060 1748.7,1060 1750.7,1060 1752.7,1060 1754.7,1060 1756.7,1060 1758.7,1060 1760.7,1060 1762.7,1060 1764.7,1060 1766.7,1060 1768.7,1060 1770.7,1060 1772.7,1060 1774.7,1060 1776.7,1060 1778.7,1060 1780.7,1060 1782.7,1060 1784.7,1060 1786.7,1060 1788.6,1060 1790.6,1060 1792.6,1060 1794.6,1060 1796.6,1060 1798.6,1060 1800.6,1060 1802.6,1060 1804.6,1060 1806.6,1060 1808.6,1060 1810.6,1060 1812.6,1060 1814.6,1060 1816.6,1060"/>
<polyline class="cr" points="1018.7,1060 1020.7,1060 1022.7,1060 1024.7,1060 1026.7,1060 1028.7,1060 1030.7,1060 1032.7,1060 1034.7,1060 1036.7,1060 1038.7,1060 1040.7,1060 1042.7,1060 1044.7,1060 1046.7,1060 1048.6,1060 1050.6,1060 1052.6,1060 1054.6,1060 1056.6,1060 1058.6,1060 1060.6,1060 1062.6,1060 1064.6,1060 1066.6,1060 1068.6,1060 1070.6,1060 1072.6,1060 1074.6,1060 1076.6,1060 1078.6,1060 1080.6,1060 1082.6,1060 1084.6,1060 1086.6,1060 1088.6,1060 1090.6,1060 1092.6,1060 1094.6,1060 1096.6,1060 1098.6,1059.9 1100.6,1059.9 1102.6,1059.9 1104.6,1059.9 1106.6,1059.9 1108.5,1059.9 1110.5,1059.9 1112.5,1059.9 1114.5,1059.8 1116.5,1059.8 1118.5,1059.8 1120.5,1059.7 1122.5,1059.7 1124.5,1059.7 1126.5,1059.6 1128.5,1059.6 1130.5,1059.5 1132.5,1059.4 1134.5,1059.4 1136.5,1059.3 1138.5,1059.2 1140.5,1059.1 1142.5,1059 1144.5,1058.8 1146.5,1058.7 1148.5,1058.5 1150.5,1058.3 1152.5,1058.1 1154.5,1057.9 1156.5,1057.6 1158.5,1057.4 1160.5,1057 1162.5,1056.7 1164.5,1056.3 1166.5,1055.9 1168.4,1055.4 1170.4,1054.9 1172.4,1054.4 1174.4,1053.8 1176.4,1053.1 1178.4,1052.4 1180.4,1051.6 1182.4,1050.8 1184.4,1049.8 1186.4,1048.8 1188.4,1047.7 1190.4,1046.5 1192.4,1045.3 1194.4,1043.9 1196.4,1042.4 1198.4,1040.8 1200.4,1039 1202.4,1037.2 1204.4,1035.2 1206.4,1033.1 1208.4,1030.8 1210.4,1028.4 1212.4,1025.8 1214.4,1023 1216.4,1020.1 1218.4,1017 1220.4,1013.7 1222.4,1010.2 1224.4,1006.5 1226.4,1002.6 1228.3,998.5 1230.3,994.2 1232.3,989.7 1234.3,984.9 1236.3,980 1238.3,974.8 1240.3,969.4 1242.3,963.8 1244.3,957.9 1246.3,951.8 1248.3,945.5 1250.3,939 1252.3,932.3 1254.3,925.4 1256.3,918.2 1258.3,910.9 1260.3,903.4 1262.3,895.7 1264.3,887.8 1266.3,879.8 1268.3,871.7 1270.3,863.4 1272.3,855 1274.3,846.5 1276.3,838 1278.3,829.4 1280.3,820.7 1282.3,812 1284.3,803.4 1286.3,794.7 1288.2,786.1 1290.2,777.6 1292.2,769.1 1294.2,760.8 1296.2,752.6 1298.2,744.6 1300.2,736.8 1302.2,729.2 1304.2,721.8 1306.2,714.7 1308.2,707.9 1310.2,701.4 1312.2,695.2 1314.2,689.4 1316.2,683.9 1318.2,678.8 1320.2,674.2 1322.2,669.9 1324.2,666.1 1326.2,662.8 1328.2,659.9 1330.2,657.5 1332.2,655.5 1334.2,654.1 1336.2,653.2 1338.2,652.7 1340.2,652.8 1342.2,653.4 1344.2,654.4 1346.2,656 1348.1,658.1 1350.1,660.6 1352.1,663.6 1354.1,667.1 1356.1,671 1358.1,675.3 1360.1,680.1 1362.1,685.3 1364.1,690.9 1366.1,696.8 1368.1,703.1 1370.1,709.7 1372.1,716.6 1374.1,723.8 1376.1,731.2 1378.1,738.9 1380.1,746.7 1382.1,754.8 1384.1,763 1386.1,771.4 1388.1,779.8 1390.1,788.4 1392.1,797 1394.1,805.6 1396.1,814.3 1398.1,823 1400.1,831.6 1402.1,840.2 1404.1,848.8 1406.1,857.2 1408,865.6 1410,873.8 1412,881.9 1414,889.9 1416,897.7 1418,905.4 1420,912.8 1422,920.1 1424,927.2 1426,934.1 1428,940.8 1430,947.2 1432,953.4 1434,959.5 1436,965.3 1438,970.8 1440,976.2 1442,981.3 1444,986.2 1446,990.9 1448,995.3 1450,999.6 1452,1003.6 1454,1007.5 1456,1011.1 1458,1014.5 1460,1017.8 1462,1020.9 1464,1023.7 1466,1026.5 1467.9,1029 1469.9,1031.4 1471.9,1033.6 1473.9,1035.7 1475.9,1037.7 1477.9,1039.5 1479.9,1041.2 1481.9,1042.8 1483.9,1044.3 1485.9,1045.6 1487.9,1046.9 1489.9,1048 1491.9,1049.1 1493.9,1050.1 1495.9,1051 1497.9,1051.8 1499.9,1052.6 1501.9,1053.3 1503.9,1054 1505.9,1054.5 1507.9,1055.1 1509.9,1055.6 1511.9,1056 1513.9,1056.4 1515.9,1056.8 1517.9,1057.1 1519.9,1057.4 1521.9,1057.7 1523.9,1057.9 1525.9,1058.2 1527.8,1058.4 1529.8,1058.6 1531.8,1058.7 1533.8,1058.9 1535.8,1059 1537.8,1059.1 1539.8,1059.2 1541.8,1059.3 1543.8,1059.4 1545.8,1059.5 1547.8,1059.5 1549.8,1059.6 1551.8,1059.6 1553.8,1059.7 1555.8,1059.7 1557.8,1059.8 1559.8,1059.8 1561.8,1059.8 1563.8,1059.8 1565.8,1059.9 1567.8,1059.9 1569.8,1059.9 1571.8,1059.9 1573.8,1059.9 1575.8,1059.9 1577.8,1059.9 1579.8,1059.9 1581.8,1060 1583.8,1060 1585.8,1060 1587.7,1060 1589.7,1060 1591.7,1060 1593.7,1060 1595.7,1060 1597.7,1060 1599.7,1060 1601.7,1060 1603.7,1060 1605.7,1060 1607.7,1060 1609.7,1060 1611.7,1060 1613.7,1060 1615.7,1060 1617.7,1060 1619.7,1060 1621.7,1060 1623.7,1060 1625.7,1060 1627.7,1060 1629.7,1060 1631.7,1060 1633.7,1060 1635.7,1060 1637.7,1060 1639.7,1060 1641.7,1060 1643.7,1060 1645.7,1060 1647.6,1060 1649.6,1060 1651.6,1060 1653.6,1060 1655.6,1060 1657.6,1060 1659.6,1060 1661.6,1060 1663.6,1060 1665.6,1060 1667.6,1060 1669.6,1060 1671.6,1060 1673.6,1060 1675.6,1060 1677.6,1060 1679.6,1060 1681.6,1060 1683.6,1060 1685.6,1060 1687.6,1060 1689.6,1060 1691.6,1060 1693.6,1060 1695.6,1060 1697.6,1060 1699.6,1060 1701.6,1060 1703.6,1060 1705.6,1060 1707.5,1060 1709.5,1060 1711.5,1060 1713.5,1060 1715.5,1060 1717.5,1060 1719.5,1060 1721.5,1060 1723.5,1060 1725.5,1060 1727.5,1060 1729.5,1060 1731.5,1060 1733.5,1060 1735.5,1060"/>
<line class="ax" x1="1004.1" y1="640.1" x2="1004.1" y2="1077"/>
<line class="ax" x1="1003.1" y1="1076" x2="1839.3" y2="1076"/>
<line class="tk" x1="995.1" y1="1060" x2="1004.1" y2="1060"/>
<text class="t r m" transform="translate(983.1 1060) rotate(-90)">0</text>
<line class="tk" x1="995.1" y1="959" x2="1004.1" y2="959"/>
<text class="t r m" transform="translate(983.1 958.2) rotate(-90) scale(.86 1)">.01</text>
<line class="tk" x1="995.1" y1="858.1" x2="1004.1" y2="858.1"/>
<text class="t r m" transform="translate(983.1 857.3) rotate(-90) scale(.86 1)">.02</text>
<line class="tk" x1="995.1" y1="757.2" x2="1004.1" y2="757.2"/>
<text class="t r m" transform="translate(983.1 756.4) rotate(-90) scale(.86 1)">.03</text>
<line class="tk" x1="995.1" y1="656.2" x2="1004.1" y2="656.2"/>
<text class="t r m" transform="translate(983.1 655.4) rotate(-90) scale(.86 1)">.04</text>
<line class="tk" x1="1133.4" y1="1076" x2="1133.4" y2="1085"/>
<text class="t m" x="1133.4" y="1111.2">100</text>
<line class="tk" x1="1420.9" y1="1076" x2="1420.9" y2="1085"/>
<text class="t m" x="1420.9" y="1111.2">150</text>
<line class="tk" x1="1708.4" y1="1076" x2="1708.4" y2="1085"/>
<text class="t m" x="1708.4" y="1111.2">200</text>
<text class="t m" x="1420.3" y="1133.9" textLength="124.5" lengthAdjust="spacingAndGlyphs">HGB-O [g/L]</text>
<text class="t r m" transform="translate(956.3 861.2) rotate(-90)">Density</text>
<text class="ti m" x="1421.7" y="623.5" textLength="225" lengthAdjust="spacingAndGlyphs">SDRsex = 1.19</text>
<text class="le" x="937.6" y="629.3">D</text>
<rect x="1607.1" y="638.1" width="231.2" height="82.4" fill="#fff"/>
<rect class="lb" x="1612.1" y="640.7" width="220.8" height="75.8"/>
<line class="cb" x1="1623.5" y1="663" x2="1712.7" y2="663"/>
<line class="cr" x1="1623.5" y1="696" x2="1712.7" y2="696"/>
<text class="t" x="1726.3" y="671.9" textLength="59.5" lengthAdjust="spacingAndGlyphs">Males</text>
<text class="t" x="1726.3" y="704.9" textLength="88.5" lengthAdjust="spacingAndGlyphs">Females</text>
</g>
<g class="panel">
<rect x="67.2" y="1232.9" width="830.8" height="435.5" fill="#fff"/>
<line class="g" x1="75.2" y1="1653" x2="897" y2="1653"/>
<line class="g" x1="75.2" y1="1518.7" x2="897" y2="1518.7"/>
<line class="g" x1="75.2" y1="1384.5" x2="897" y2="1384.5"/>
<line class="g" x1="75.2" y1="1250.2" x2="897" y2="1250.2"/>
<polyline class="cb" points="162.3,1653 164.3,1653 166.3,1653 168.3,1653 170.3,1653 172.3,1653 174.3,1653 176.3,1653 178.3,1653 180.3,1653 182.3,1653 184.3,1653 186.3,1653 188.2,1653 190.2,1653 192.2,1653 194.2,1653 196.2,1653 198.2,1653 200.2,1653 202.2,1653 204.2,1653 206.2,1653 208.2,1653 210.2,1653 212.2,1653 214.2,1652.9 216.2,1652.9 218.2,1652.9 220.2,1652.9 222.2,1652.9 224.2,1652.9 226.2,1652.9 228.2,1652.9 230.2,1652.9 232.2,1652.9 234.2,1652.8 236.2,1652.8 238.1,1652.8 240.1,1652.8 242.1,1652.7 244.1,1652.7 246.1,1652.7 248.1,1652.6 250.1,1652.6 252.1,1652.6 254.1,1652.5 256.1,1652.5 258.1,1652.4 260.1,1652.3 262.1,1652.3 264.1,1652.2 266.1,1652.1 268.1,1652 270.1,1651.9 272.1,1651.8 274.1,1651.7 276.1,1651.5 278.1,1651.4 280.1,1651.2 282.1,1651 284.1,1650.9 286,1650.6 288,1650.4 290,1650.2 292,1649.9 294,1649.6 296,1649.3 298,1649 300,1648.6 302,1648.2 304,1647.8 306,1647.3 308,1646.8 310,1646.3 312,1645.7 314,1645.1 316,1644.5 318,1643.8 320,1643 322,1642.2 324,1641.4 326,1640.4 328,1639.5 330,1638.4 332,1637.3 334,1636.1 335.9,1634.9 337.9,1633.5 339.9,1632.1 341.9,1630.6 343.9,1629 345.9,1627.4 347.9,1625.6 349.9,1623.7 351.9,1621.7 353.9,1619.7 355.9,1617.5 357.9,1615.2 359.9,1612.8 361.9,1610.2 363.9,1607.6 365.9,1604.8 367.9,1601.9 369.9,1598.8 371.9,1595.7 373.9,1592.4 375.9,1588.9 377.9,1585.3 379.9,1581.6 381.9,1577.7 383.9,1573.7 385.8,1569.5 387.8,1565.2 389.8,1560.8 391.8,1556.2 393.8,1551.4 395.8,1546.5 397.8,1541.5 399.8,1536.3 401.8,1531 403.8,1525.6 405.8,1520 407.8,1514.3 409.8,1508.4 411.8,1502.5 413.8,1496.4 415.8,1490.2 417.8,1483.9 419.8,1477.5 421.8,1471 423.8,1464.4 425.8,1457.8 427.8,1451.1 429.8,1444.3 431.8,1437.5 433.8,1430.6 435.7,1423.7 437.7,1416.8 439.7,1409.9 441.7,1403 443.7,1396.1 445.7,1389.2 447.7,1382.4 449.7,1375.6 451.7,1368.9 453.7,1362.3 455.7,1355.8 457.7,1349.3 459.7,1343 461.7,1336.8 463.7,1330.7 465.7,1324.9 467.7,1319.1 469.7,1313.6 471.7,1308.2 473.7,1303.1 475.7,1298.1 477.7,1293.4 479.7,1289 481.7,1284.8 483.7,1280.8 485.6,1277.1 487.6,1273.7 489.6,1270.6 491.6,1267.7 493.6,1265.2 495.6,1263 497.6,1261 499.6,1259.4 501.6,1258.1 503.6,1257.2 505.6,1256.5 507.6,1256.2 509.6,1256.2 511.6,1256.6 513.6,1257.3 515.6,1258.3 517.6,1259.6 519.6,1261.2 521.6,1263.2 523.6,1265.4 525.6,1268 527.6,1270.9 529.6,1274 531.6,1277.5 533.5,1281.2 535.5,1285.2 537.5,1289.4 539.5,1293.9 541.5,1298.6 543.5,1303.6 545.5,1308.8 547.5,1314.1 549.5,1319.7 551.5,1325.4 553.5,1331.3 555.5,1337.4 557.5,1343.6 559.5,1349.9 561.5,1356.4 563.5,1363 565.5,1369.6 567.5,1376.3 569.5,1383.1 571.5,1389.9 573.5,1396.8 575.5,1403.7 577.5,1410.6 579.5,1417.5 581.5,1424.4 583.4,1431.3 585.4,1438.2 587.4,1445 589.4,1451.8 591.4,1458.5 593.4,1465.1 595.4,1471.7 597.4,1478.1 599.4,1484.5 601.4,1490.8 603.4,1497 605.4,1503.1 607.4,1509 609.4,1514.8 611.4,1520.5 613.4,1526.1 615.4,1531.6 617.4,1536.9 619.4,1542 621.4,1547 623.4,1551.9 625.4,1556.6 627.4,1561.2 629.4,1565.7 631.4,1570 633.3,1574.1 635.3,1578.1 637.3,1582 639.3,1585.7 641.3,1589.3 643.3,1592.7 645.3,1596 647.3,1599.1 649.3,1602.2 651.3,1605.1 653.3,1607.8 655.3,1610.5 657.3,1613 659.3,1615.4 661.3,1617.7 663.3,1619.9 665.3,1621.9 667.3,1623.9 669.3,1625.8 671.3,1627.5 673.3,1629.2 675.3,1630.8 677.3,1632.3 679.3,1633.7 681.3,1635 683.2,1636.2 685.2,1637.4 687.2,1638.5 689.2,1639.6 691.2,1640.5 693.2,1641.4 695.2,1642.3 697.2,1643.1 699.2,1643.8 701.2,1644.5 703.2,1645.2 705.2,1645.8 707.2,1646.4 709.2,1646.9 711.2,1647.4 713.2,1647.8 715.2,1648.3 717.2,1648.6 719.2,1649 721.2,1649.3 723.2,1649.7 725.2,1649.9 727.2,1650.2 729.2,1650.4 731.1,1650.7 733.1,1650.9 735.1,1651.1 737.1,1651.2 739.1,1651.4 741.1,1651.5 743.1,1651.7 745.1,1651.8 747.1,1651.9 749.1,1652 751.1,1652.1 753.1,1652.2 755.1,1652.3 757.1,1652.3 759.1,1652.4 761.1,1652.5 763.1,1652.5 765.1,1652.6 767.1,1652.6 769.1,1652.7 771.1,1652.7 773.1,1652.7 775.1,1652.7 777.1,1652.8 779.1,1652.8 781,1652.8 783,1652.8 785,1652.9 787,1652.9 789,1652.9 791,1652.9 793,1652.9 795,1652.9 797,1652.9 799,1652.9 801,1652.9 803,1653 805,1653"/>
<polyline class="cr" points="85.5,1653 87.5,1653 89.5,1653 91.5,1653 93.5,1653 95.5,1653 97.5,1653 99.5,1653 101.5,1653 103.5,1653 105.5,1653 107.5,1653 109.4,1652.9 111.4,1652.9 113.4,1652.9 115.4,1652.9 117.4,1652.9 119.4,1652.9 121.4,1652.9 123.4,1652.9 125.4,1652.9 127.4,1652.8 129.4,1652.8 131.4,1652.8 133.4,1652.8 135.4,1652.7 137.4,1652.7 139.4,1652.7 141.4,1652.6 143.4,1652.6 145.4,1652.6 147.4,1652.5 149.4,1652.5 151.4,1652.4 153.4,1652.3 155.3,1652.3 157.3,1652.2 159.3,1652.1 161.3,1652 163.3,1651.9 165.3,1651.8 167.3,1651.6 169.3,1651.5 171.3,1651.3 173.3,1651.2 175.3,1651 177.3,1650.8 179.3,1650.6 181.3,1650.3 183.3,1650.1 185.3,1649.8 187.3,1649.5 189.3,1649.2 191.3,1648.8 193.3,1648.4 195.3,1648 197.3,1647.6 199.2,1647.1 201.2,1646.6 203.2,1646 205.2,1645.4 207.2,1644.8 209.2,1644.1 211.2,1643.3 213.2,1642.5 215.2,1641.7 217.2,1640.7 219.2,1639.8 221.2,1638.7 223.2,1637.6 225.2,1636.4 227.2,1635.1 229.2,1633.8 231.2,1632.4 233.2,1630.8 235.2,1629.2 237.2,1627.5 239.2,1625.7 241.2,1623.8 243.2,1621.8 245.1,1619.7 247.1,1617.5 249.1,1615.1 251.1,1612.6 253.1,1610.1 255.1,1607.3 257.1,1604.5 259.1,1601.5 261.1,1598.4 263.1,1595.1 265.1,1591.7 267.1,1588.1 269.1,1584.4 271.1,1580.6 273.1,1576.6 275.1,1572.4 277.1,1568.1 279.1,1563.6 281.1,1559 283.1,1554.3 285.1,1549.3 287.1,1544.3 289.1,1539 291,1533.7 293,1528.1 295,1522.5 297,1516.7 299,1510.7 301,1504.6 303,1498.4 305,1492.1 307,1485.7 309,1479.1 311,1472.5 313,1465.7 315,1458.9 317,1452 319,1445 321,1438 323,1430.9 325,1423.8 327,1416.6 329,1409.5 331,1402.3 333,1395.1 335,1388 336.9,1380.9 338.9,1373.9 340.9,1366.9 342.9,1360 344.9,1353.2 346.9,1346.4 348.9,1339.8 350.9,1333.4 352.9,1327.1 354.9,1320.9 356.9,1314.9 358.9,1309.1 360.9,1303.5 362.9,1298.1 364.9,1293 366.9,1288 368.9,1283.3 370.9,1278.9 372.9,1274.8 374.9,1270.9 376.9,1267.3 378.9,1264.1 380.9,1261.1 382.8,1258.4 384.8,1256.1 386.8,1254.1 388.8,1252.4 390.8,1251.1 392.8,1250.1 394.8,1249.4 396.8,1249.1 398.8,1249.2 400.8,1249.5 402.8,1250.3 404.8,1251.3 406.8,1252.7 408.8,1254.5 410.8,1256.6 412.8,1259 414.8,1261.7 416.8,1264.7 418.8,1268.1 420.8,1271.7 422.8,1275.6 424.8,1279.8 426.7,1284.3 428.7,1289.1 430.7,1294 432.7,1299.2 434.7,1304.7 436.7,1310.3 438.7,1316.2 440.7,1322.2 442.7,1328.4 444.7,1334.7 446.7,1341.2 448.7,1347.9 450.7,1354.6 452.7,1361.4 454.7,1368.4 456.7,1375.4 458.7,1382.4 460.7,1389.5 462.7,1396.7 464.7,1403.8 466.7,1411 468.7,1418.1 470.7,1425.3 472.6,1432.4 474.6,1439.5 476.6,1446.5 478.6,1453.5 480.6,1460.4 482.6,1467.2 484.6,1473.9 486.6,1480.5 488.6,1487.1 490.6,1493.5 492.6,1499.8 494.6,1505.9 496.6,1512 498.6,1517.9 500.6,1523.7 502.6,1529.3 504.6,1534.8 506.6,1540.2 508.6,1545.4 510.6,1550.4 512.6,1555.3 514.6,1560 516.6,1564.6 518.5,1569 520.5,1573.3 522.5,1577.4 524.5,1581.4 526.5,1585.2 528.5,1588.9 530.5,1592.4 532.5,1595.8 534.5,1599 536.5,1602.1 538.5,1605.1 540.5,1607.9 542.5,1610.6 544.5,1613.2 546.5,1615.6 548.5,1618 550.5,1620.2 552.5,1622.3 554.5,1624.2 556.5,1626.1 558.5,1627.9 560.5,1629.6 562.5,1631.2 564.4,1632.7 566.4,1634.1 568.4,1635.4 570.4,1636.7 572.4,1637.8 574.4,1638.9 576.4,1640 578.4,1640.9 580.4,1641.8 582.4,1642.7 584.4,1643.5 586.4,1644.2 588.4,1644.9 590.4,1645.5 592.4,1646.1 594.4,1646.7 596.4,1647.2 598.4,1647.7 600.4,1648.1 602.4,1648.5 604.4,1648.9 606.4,1649.3 608.3,1649.6 610.3,1649.9 612.3,1650.1 614.3,1650.4 616.3,1650.6 618.3,1650.8 620.3,1651 622.3,1651.2 624.3,1651.4 626.3,1651.5 628.3,1651.7 630.3,1651.8 632.3,1651.9 634.3,1652 636.3,1652.1 638.3,1652.2 640.3,1652.3 642.3,1652.3 644.3,1652.4 646.3,1652.5 648.3,1652.5 650.3,1652.6 652.3,1652.6 654.2,1652.7 656.2,1652.7 658.2,1652.7 660.2,1652.8 662.2,1652.8 664.2,1652.8 666.2,1652.8 668.2,1652.8 670.2,1652.9 672.2,1652.9 674.2,1652.9 676.2,1652.9"/>
<line class="ax" x1="71.2" y1="1234.9" x2="71.2" y2="1669.4"/>
<line class="ax" x1="70.2" y1="1668.4" x2="899" y2="1668.4"/>
<line class="tk" x1="62.2" y1="1653" x2="71.2" y2="1653"/>
<text class="t r m" transform="translate(50.2 1653) rotate(-90)">0</text>
<line class="tk" x1="62.2" y1="1518.7" x2="71.2" y2="1518.7"/>
<text class="t r m" transform="translate(50.2 1518.7) rotate(-90)">5</text>
<line class="tk" x1="62.2" y1="1384.5" x2="71.2" y2="1384.5"/>
<text class="t r m" transform="translate(50.2 1383.7) rotate(-90) scale(.86 1)">10</text>
<line class="tk" x1="62.2" y1="1250.2" x2="71.2" y2="1250.2"/>
<text class="t r m" transform="translate(50.2 1249.4) rotate(-90) scale(.86 1)">15</text>
<line class="tk" x1="111.4" y1="1668.4" x2="111.4" y2="1677.4"/>
<text class="t m" x="111.4" y="1703.6">.3</text>
<line class="tk" x1="368.7" y1="1668.4" x2="368.7" y2="1677.4"/>
<text class="t m" x="368.7" y="1703.6">.4</text>
<line class="tk" x1="625.9" y1="1668.4" x2="625.9" y2="1677.4"/>
<text class="t m" x="625.9" y="1703.6">.5</text>
<line class="tk" x1="883.2" y1="1668.4" x2="883.2" y2="1677.4"/>
<text class="t m" x="883.2" y="1703.6">.6</text>
<text class="t m" x="484" y="1726.5" textLength="96.5" lengthAdjust="spacingAndGlyphs">HCT [L/L]</text>
<text class="t r m" transform="translate(24 1454.7) rotate(-90)">Density</text>
<text class="ti m" x="484.2" y="1220.5" textLength="225" lengthAdjust="spacingAndGlyphs">SDRsex = 1.16</text>
<text class="le" x="6.5" y="1219">E</text>
<rect x="669.2" y="1236.8" width="228.8" height="84.8" fill="#fff"/>
<rect class="lb" x="674.2" y="1240.8" width="218" height="76.8"/>
<line class="cb" x1="684.3" y1="1262.1" x2="773.6" y2="1262.1"/>
<line class="cr" x1="684.3" y1="1296.2" x2="773.6" y2="1296.2"/>
<text class="t" x="787.1" y="1271" textLength="59.5" lengthAdjust="spacingAndGlyphs">Males</text>
<text class="t" x="787.1" y="1305.1" textLength="88.5" lengthAdjust="spacingAndGlyphs">Females</text>
</g>
<g class="panel">
<rect x="1003.9" y="1238.3" width="834.4" height="436.6" fill="#fff"/>
<line class="g" x1="1011.9" y1="1659.1" x2="1837.3" y2="1659.1"/>
<line class="g" x1="1011.9" y1="1561.3" x2="1837.3" y2="1561.3"/>
<line class="g" x1="1011.9" y1="1463.5" x2="1837.3" y2="1463.5"/>
<line class="g" x1="1011.9" y1="1365.8" x2="1837.3" y2="1365.8"/>
<line class="g" x1="1011.9" y1="1268" x2="1837.3" y2="1268"/>
<polyline class="cb" points="1270.2,1659 1272.2,1658.9 1274.2,1658.9 1276.2,1658.9 1278.2,1658.8 1280.2,1658.8 1282.2,1658.7 1284.2,1658.7 1286.2,1658.6 1288.2,1658.6 1290.2,1658.5 1292.2,1658.4 1294.2,1658.3 1296.1,1658.2 1298.1,1658 1300.1,1657.9 1302.1,1657.7 1304.1,1657.5 1306.1,1657.3 1308.1,1657.1 1310.1,1656.8 1312.1,1656.5 1314.1,1656.2 1316.1,1655.8 1318.1,1655.4 1320.1,1654.9 1322.1,1654.4 1324.1,1653.8 1326.1,1653.2 1328.1,1652.5 1330.1,1651.7 1332.1,1650.9 1334.1,1650 1336.1,1649 1338.1,1647.9 1340.1,1646.6 1342.1,1645.3 1344,1643.9 1346,1642.3 1348,1640.6 1350,1638.8 1352,1636.8 1354,1634.7 1356,1632.4 1358,1629.9 1360,1627.3 1362,1624.4 1364,1621.3 1366,1618.1 1368,1614.6 1370,1610.9 1372,1607 1374,1602.8 1376,1598.4 1378,1593.7 1380,1588.8 1382,1583.7 1384,1578.2 1386,1572.5 1388,1566.6 1390,1560.3 1391.9,1553.9 1393.9,1547.1 1395.9,1540.1 1397.9,1532.8 1399.9,1525.3 1401.9,1517.6 1403.9,1509.6 1405.9,1501.5 1407.9,1493.1 1409.9,1484.5 1411.9,1475.8 1413.9,1466.9 1415.9,1457.8 1417.9,1448.7 1419.9,1439.5 1421.9,1430.2 1423.9,1420.8 1425.9,1411.5 1427.9,1402.1 1429.9,1392.8 1431.9,1383.6 1433.9,1374.5 1435.9,1365.5 1437.9,1356.6 1439.8,1348 1441.8,1339.6 1443.8,1331.4 1445.8,1323.6 1447.8,1316 1449.8,1308.8 1451.8,1302 1453.8,1295.6 1455.8,1289.6 1457.8,1284 1459.8,1279 1461.8,1274.4 1463.8,1270.4 1465.8,1266.9 1467.8,1263.9 1469.8,1261.5 1471.8,1259.7 1473.8,1258.5 1475.8,1257.9 1477.8,1257.9 1479.8,1258.4 1481.8,1259.6 1483.8,1261.3 1485.8,1263.6 1487.7,1266.5 1489.7,1269.9 1491.7,1273.9 1493.7,1278.3 1495.7,1283.3 1497.7,1288.8 1499.7,1294.8 1501.7,1301.1 1503.7,1307.9 1505.7,1315.1 1507.7,1322.6 1509.7,1330.4 1511.7,1338.5 1513.7,1346.9 1515.7,1355.5 1517.7,1364.3 1519.7,1373.3 1521.7,1382.4 1523.7,1391.6 1525.7,1400.9 1527.7,1410.3 1529.7,1419.6 1531.7,1429 1533.7,1438.3 1535.6,1447.5 1537.6,1456.7 1539.6,1465.7 1541.6,1474.6 1543.6,1483.4 1545.6,1492 1547.6,1500.4 1549.6,1508.6 1551.6,1516.6 1553.6,1524.4 1555.6,1531.9 1557.6,1539.2 1559.6,1546.2 1561.6,1553 1563.6,1559.5 1565.6,1565.8 1567.6,1571.8 1569.6,1577.5 1571.6,1583 1573.6,1588.2 1575.6,1593.1 1577.6,1597.8 1579.6,1602.3 1581.6,1606.5 1583.5,1610.4 1585.5,1614.1 1587.5,1617.6 1589.5,1620.9 1591.5,1624 1593.5,1626.9 1595.5,1629.6 1597.5,1632.1 1599.5,1634.4 1601.5,1636.6 1603.5,1638.6 1605.5,1640.4 1607.5,1642.1 1609.5,1643.7 1611.5,1645.2 1613.5,1646.5 1615.5,1647.7 1617.5,1648.8 1619.5,1649.8 1621.5,1650.8 1623.5,1651.6 1625.5,1652.4 1627.5,1653.1 1629.5,1653.7 1631.4,1654.3 1633.4,1654.8 1635.4,1655.3 1637.4,1655.7 1639.4,1656.1 1641.4,1656.4 1643.4,1656.8 1645.4,1657 1647.4,1657.3 1649.4,1657.5 1651.4,1657.7 1653.4,1657.9 1655.4,1658"/>
<polyline class="cr" points="1071.1,1659.1 1073.1,1659.1 1075.1,1659.1 1077.1,1659.1 1079.1,1659.1 1081.1,1659.1 1083.1,1659.1 1085.1,1659.1 1087.1,1659.1 1089.1,1659.1 1091.1,1659.1 1093.1,1659.1 1095,1659.1 1097,1659.1 1099,1659.1 1101,1659.1 1103,1659.1 1105,1659.1 1107,1659.1 1109,1659.1 1111,1659.1 1113,1659.1 1115,1659.1 1117,1659.1 1119,1659.1 1121,1659.1 1123,1659.1 1125,1659.1 1127,1659.1 1129,1659.1 1131,1659.1 1133,1659.1 1135,1659.1 1137,1659.1 1139,1659.1 1140.9,1659.1 1142.9,1659.1 1144.9,1659.1 1146.9,1659.1 1148.9,1659.1 1150.9,1659.1 1152.9,1659.1 1154.9,1659.1 1156.9,1659.1 1158.9,1659.1 1160.9,1659.1 1162.9,1659.1 1164.9,1659.1 1166.9,1659.1 1168.9,1659.1 1170.9,1659.1 1172.9,1659.1 1174.9,1659.1 1176.9,1659.1 1178.9,1659.1 1180.9,1659.1 1182.9,1659.1 1184.9,1659.1 1186.8,1659.1 1188.8,1659.1 1190.8,1659.1 1192.8,1659.1 1194.8,1659.1 1196.8,1659.1 1198.8,1659.1 1200.8,1659.1 1202.8,1659.1 1204.8,1659.1 1206.8,1659.1 1208.8,1659.1 1210.8,1659.1 1212.8,1659.1 1214.8,1659.1 1216.8,1659.1 1218.8,1659.1 1220.8,1659.1 1222.8,1659.1 1224.8,1659.1 1226.8,1659.1 1228.8,1659 1230.8,1659 1232.7,1659 1234.7,1659 1236.7,1659 1238.7,1659 1240.7,1659 1242.7,1658.9 1244.7,1658.9 1246.7,1658.9 1248.7,1658.8 1250.7,1658.8 1252.7,1658.7 1254.7,1658.7 1256.7,1658.6 1258.7,1658.5 1260.7,1658.4 1262.7,1658.4 1264.7,1658.2 1266.7,1658.1 1268.7,1658 1270.7,1657.8 1272.7,1657.6 1274.7,1657.4 1276.7,1657.2 1278.7,1657 1280.6,1656.7 1282.6,1656.4 1284.6,1656 1286.6,1655.6 1288.6,1655.2 1290.6,1654.7 1292.6,1654.1 1294.6,1653.5 1296.6,1652.8 1298.6,1652.1 1300.6,1651.3 1302.6,1650.4 1304.6,1649.4 1306.6,1648.3 1308.6,1647.2 1310.6,1645.9 1312.6,1644.5 1314.6,1642.9 1316.6,1641.3 1318.6,1639.5 1320.6,1637.5 1322.6,1635.4 1324.6,1633.1 1326.5,1630.7 1328.5,1628 1330.5,1625.2 1332.5,1622.2 1334.5,1618.9 1336.5,1615.4 1338.5,1611.8 1340.5,1607.8 1342.5,1603.6 1344.5,1599.2 1346.5,1594.5 1348.5,1589.6 1350.5,1584.4 1352.5,1578.9 1354.5,1573.2 1356.5,1567.2 1358.5,1560.9 1360.5,1554.3 1362.5,1547.5 1364.5,1540.4 1366.5,1533 1368.5,1525.4 1370.5,1517.6 1372.4,1509.5 1374.4,1501.2 1376.4,1492.6 1378.4,1483.9 1380.4,1475 1382.4,1465.9 1384.4,1456.7 1386.4,1447.4 1388.4,1438 1390.4,1428.5 1392.4,1418.9 1394.4,1409.4 1396.4,1399.8 1398.4,1390.3 1400.4,1380.9 1402.4,1371.6 1404.4,1362.4 1406.4,1353.4 1408.4,1344.5 1410.4,1336 1412.4,1327.6 1414.4,1319.6 1416.4,1311.9 1418.3,1304.6 1420.3,1297.6 1422.3,1291.1 1424.3,1285 1426.3,1279.4 1428.3,1274.3 1430.3,1269.7 1432.3,1265.7 1434.3,1262.2 1436.3,1259.3 1438.3,1256.9 1440.3,1255.2 1442.3,1254.1 1444.3,1253.5 1446.3,1253.6 1448.3,1254.3 1450.3,1255.6 1452.3,1257.5 1454.3,1260 1456.3,1263.1 1458.3,1266.8 1460.3,1271 1462.3,1275.7 1464.2,1281 1466.2,1286.7 1468.2,1292.9 1470.2,1299.6 1472.2,1306.7 1474.2,1314.1 1476.2,1321.9 1478.2,1330 1480.2,1338.4 1482.2,1347.1 1484.2,1356 1486.2,1365 1488.2,1374.3 1490.2,1383.6 1492.2,1393.1 1494.2,1402.6 1496.2,1412.2 1498.2,1421.7 1500.2,1431.2 1502.2,1440.7 1504.2,1450.1 1506.2,1459.4 1508.2,1468.6 1510.1,1477.6 1512.1,1486.4 1514.1,1495.1 1516.1,1503.6 1518.1,1511.8 1520.1,1519.9 1522.1,1527.7 1524.1,1535.2 1526.1,1542.5 1528.1,1549.5 1530.1,1556.3 1532.1,1562.7 1534.1,1568.9 1536.1,1574.9 1538.1,1580.5 1540.1,1585.9 1542.1,1591.1 1544.1,1595.9 1546.1,1600.5 1548.1,1604.9 1550.1,1609 1552.1,1612.9 1554.1,1616.5 1556,1619.9 1558,1623.1 1560,1626 1562,1628.8 1564,1631.4 1566,1633.8 1568,1636 1570,1638.1 1572,1640 1574,1641.8 1576,1643.4 1578,1644.9 1580,1646.3 1582,1647.5 1584,1648.7 1586,1649.7 1588,1650.7 1590,1651.5 1592,1652.3 1594,1653 1596,1653.7 1598,1654.3 1600,1654.8 1602,1655.3 1603.9,1655.7 1605.9,1656.1 1607.9,1656.4 1609.9,1656.8 1611.9,1657 1613.9,1657.3 1615.9,1657.5 1617.9,1657.7 1619.9,1657.9 1621.9,1658 1623.9,1658.2 1625.9,1658.3 1627.9,1658.4 1629.9,1658.5 1631.9,1658.6 1633.9,1658.6 1635.9,1658.7 1637.9,1658.7 1639.9,1658.8 1641.9,1658.8 1643.9,1658.9 1645.9,1658.9 1647.9,1658.9 1649.8,1659 1651.8,1659 1653.8,1659 1655.8,1659 1657.8,1659 1659.8,1659 1661.8,1659 1663.8,1659.1 1665.8,1659.1 1667.8,1659.1 1669.8,1659.1 1671.8,1659.1 1673.8,1659.1 1675.8,1659.1 1677.8,1659.1 1679.8,1659.1 1681.8,1659.1 1683.8,1659.1 1685.8,1659.1 1687.8,1659.1 1689.8,1659.1 1691.8,1659.1 1693.8,1659.1 1695.7,1659.1 1697.7,1659.1 1699.7,1659.1 1701.7,1659.1 1703.7,1659.1 1705.7,1659.1 1707.7,1659.1 1709.7,1659.1 1711.7,1659.1 1713.7,1659.1 1715.7,1659.1 1717.7,1659.1 1719.7,1659.1 1721.7,1659.1 1723.7,1659.1 1725.7,1659.1 1727.7,1659.1 1729.7,1659.1 1731.7,1659.1 1733.7,1659.1 1735.7,1659.1 1737.7,1659.1 1739.7,1659.1 1741.6,1659.1 1743.6,1659.1 1745.6,1659.1 1747.6,1659.1 1749.6,1659.1 1751.6,1659.1 1753.6,1659.1 1755.6,1659.1 1757.6,1659.1 1759.6,1659.1 1761.6,1659.1 1763.6,1659.1"/>
<line class="ax" x1="1007.9" y1="1240.3" x2="1007.9" y2="1675.9"/>
<line class="ax" x1="1006.9" y1="1674.9" x2="1839.3" y2="1674.9"/>
<line class="tk" x1="998.9" y1="1659.1" x2="1007.9" y2="1659.1"/>
<text class="t r m" transform="translate(986.9 1659.1) rotate(-90)">0</text>
<line class="tk" x1="998.9" y1="1561.3" x2="1007.9" y2="1561.3"/>
<text class="t r m" transform="translate(986.9 1560.5) rotate(-90) scale(.86 1)">.01</text>
<line class="tk" x1="998.9" y1="1463.5" x2="1007.9" y2="1463.5"/>
<text class="t r m" transform="translate(986.9 1462.8) rotate(-90) scale(.86 1)">.02</text>
<line class="tk" x1="998.9" y1="1365.8" x2="1007.9" y2="1365.8"/>
<text class="t r m" transform="translate(986.9 1365) rotate(-90) scale(.86 1)">.03</text>
<line class="tk" x1="998.9" y1="1268" x2="1007.9" y2="1268"/>
<text class="t r m" transform="translate(986.9 1267.2) rotate(-90) scale(.86 1)">.04</text>
<line class="tk" x1="1022" y1="1674.9" x2="1022" y2="1683.9"/>
<text class="t m" x="1022" y="1710.1">250</text>
<line class="tk" x1="1289.1" y1="1674.9" x2="1289.1" y2="1683.9"/>
<text class="t m" x="1289.1" y="1710.1">300</text>
<line class="tk" x1="1556.2" y1="1674.9" x2="1556.2" y2="1683.9"/>
<text class="t m" x="1556.2" y="1710.1">350</text>
<line class="tk" x1="1823.3" y1="1674.9" x2="1823.3" y2="1683.9"/>
<text class="t m" x="1823.3" y="1710.1">400</text>
<text class="t m" x="1423.5" y="1732.5" textLength="116.8" lengthAdjust="spacingAndGlyphs">MCHC [g/L]</text>
<text class="t r m" transform="translate(959.5 1460.1) rotate(-90)">Density</text>
<text class="ti m" x="1422.8" y="1224.8" textLength="223" lengthAdjust="spacingAndGlyphs">SDRsex = 0.43</text>
<text class="le" x="936.5" y="1219.5">F</text>
<rect x="1609.4" y="1238.3" width="228.9" height="83" fill="#fff"/>
<rect class="lb" x="1614.4" y="1241.6" width="219.5" height="75.7"/>
<line class="cb" x1="1625.6" y1="1263.8" x2="1713.8" y2="1263.8"/>
<line class="cr" x1="1625.6" y1="1296.2" x2="1713.8" y2="1296.2"/>
<text class="t" x="1728.4" y="1272.7" textLength="59.5" lengthAdjust="spacingAndGlyphs">Males</text>
<text class="t" x="1728.4" y="1305.1" textLength="88.5" lengthAdjust="spacingAndGlyphs">Females</text>
</g>
<g class="panel">
<rect x="67.2" y="1825" width="829.2" height="434.4" fill="#fff"/>
<line class="g" x1="75.2" y1="2244.2" x2="895.4" y2="2244.2"/>
<line class="g" x1="75.2" y1="2109.8" x2="895.4" y2="2109.8"/>
<line class="g" x1="75.2" y1="1975.4" x2="895.4" y2="1975.4"/>
<polyline class="cb" points="124.4,2230.6 126.4,2229.9 128.4,2229.2 130.4,2228.5 132.4,2227.7 134.4,2226.9 136.4,2226.1 138.4,2225.2 140.4,2224.3 142.4,2223.4 144.4,2222.5 146.4,2221.5 148.3,2220.4 150.3,2219.4 152.3,2218.3 154.3,2217.2 156.3,2216 158.3,2214.8 160.3,2213.5 162.3,2212.2 164.3,2210.9 166.3,2209.6 168.3,2208.2 170.3,2206.7 172.3,2205.2 174.3,2203.7 176.3,2202.1 178.3,2200.5 180.3,2198.8 182.3,2197.1 184.3,2195.4 186.3,2193.6 188.3,2191.8 190.3,2189.9 192.2,2188 194.2,2186.1 196.2,2184.1 198.2,2182 200.2,2179.9 202.2,2177.8 204.2,2175.7 206.2,2173.5 208.2,2171.2 210.2,2168.9 212.2,2166.6 214.2,2164.3 216.2,2161.9 218.2,2159.5 220.2,2157 222.2,2154.5 224.2,2152 226.2,2149.4 228.2,2146.9 230.2,2144.3 232.2,2141.6 234.2,2139 236.1,2136.3 238.1,2133.6 240.1,2130.9 242.1,2128.1 244.1,2125.4 246.1,2122.6 248.1,2119.9 250.1,2117.1 252.1,2114.3 254.1,2111.5 256.1,2108.7 258.1,2105.9 260.1,2103.1 262.1,2100.3 264.1,2097.6 266.1,2094.8 268.1,2092 270.1,2089.3 272.1,2086.6 274.1,2083.9 276.1,2081.2 278.1,2078.6 280.1,2076 282,2073.4 284,2070.8 286,2068.3 288,2065.9 290,2063.4 292,2061.1 294,2058.7 296,2056.5 298,2054.2 300,2052.1 302,2049.9 304,2047.9 306,2045.9 308,2044 310,2042.1 312,2040.4 314,2038.7 316,2037 318,2035.5 320,2034 322,2032.6 324,2031.3 325.9,2030.1 327.9,2028.9 329.9,2027.9 331.9,2026.9 333.9,2026 335.9,2025.2 337.9,2024.5 339.9,2023.9 341.9,2023.4 343.9,2023 345.9,2022.7 347.9,2022.5 349.9,2022.3 351.9,2022.3 353.9,2022.4 355.9,2022.5 357.9,2022.8 359.9,2023.1 361.9,2023.6 363.9,2024.1 365.9,2024.7 367.9,2025.4 369.8,2026.3 371.8,2027.2 373.8,2028.2 375.8,2029.2 377.8,2030.4 379.8,2031.7 381.8,2033 383.8,2034.4 385.8,2035.9 387.8,2037.5 389.8,2039.1 391.8,2040.9 393.8,2042.7 395.8,2044.5 397.8,2046.5 399.8,2048.5 401.8,2050.6 403.8,2052.7 405.8,2054.9 407.8,2057.1 409.8,2059.4 411.8,2061.7 413.7,2064.1 415.7,2066.6 417.7,2069.1 419.7,2071.6 421.7,2074.1 423.7,2076.7 425.7,2079.3 427.7,2082 429.7,2084.7 431.7,2087.4 433.7,2090.1 435.7,2092.8 437.7,2095.6 439.7,2098.4 441.7,2101.1 443.7,2103.9 445.7,2106.7 447.7,2109.5 449.7,2112.3 451.7,2115.1 453.7,2117.9 455.7,2120.7 457.7,2123.4 459.6,2126.2 461.6,2128.9 463.6,2131.7 465.6,2134.4 467.6,2137.1 469.6,2139.7 471.6,2142.4 473.6,2145 475.6,2147.6 477.6,2150.2 479.6,2152.7 481.6,2155.2 483.6,2157.7 485.6,2160.2 487.6,2162.6 489.6,2165 491.6,2167.3 493.6,2169.6 495.6,2171.9 497.6,2174.1 499.6,2176.3 501.6,2178.4 503.5,2180.6 505.5,2182.6 507.5,2184.6 509.5,2186.6 511.5,2188.6 513.5,2190.5 515.5,2192.3 517.5,2194.1 519.5,2195.9 521.5,2197.6 523.5,2199.3 525.5,2201 527.5,2202.6 529.5,2204.1 531.5,2205.7 533.5,2207.1 535.5,2208.6 537.5,2210 539.5,2211.3 541.5,2212.6 543.5,2213.9 545.5,2215.1 547.4,2216.3 549.4,2217.5 551.4,2218.6 553.4,2219.7 555.4,2220.7 557.4,2221.8 559.4,2222.7 561.4,2223.7 563.4,2224.6 565.4,2225.5 567.4,2226.3 569.4,2227.1 571.4,2227.9 573.4,2228.7 575.4,2229.4 577.4,2230.1 579.4,2230.8 581.4,2231.4 583.4,2232.1 585.4,2232.7 587.4,2233.2 589.4,2233.8 591.4,2234.3 593.3,2234.8 595.3,2235.3 597.3,2235.7 599.3,2236.2 601.3,2236.6 603.3,2237 605.3,2237.4 607.3,2237.7 609.3,2238.1 611.3,2238.4 613.3,2238.7 615.3,2239 617.3,2239.3 619.3,2239.6 621.3,2239.9 623.3,2240.1 625.3,2240.3 627.3,2240.6 629.3,2240.8 631.3,2241 633.3,2241.2 635.3,2241.3 637.2,2241.5 639.2,2241.7 641.2,2241.8 643.2,2242 645.2,2242.1 647.2,2242.2 649.2,2242.4 651.2,2242.5 653.2,2242.6 655.2,2242.7 657.2,2242.8 659.2,2242.9 661.2,2243 663.2,2243 665.2,2243.1 667.2,2243.2 669.2,2243.3 671.2,2243.3 673.2,2243.4 675.2,2243.4 677.2,2243.5 679.2,2243.5 681.1,2243.6 683.1,2243.6 685.1,2243.7 687.1,2243.7 689.1,2243.7 691.1,2243.8 693.1,2243.8 695.1,2243.8 697.1,2243.9 699.1,2243.9 701.1,2243.9 703.1,2243.9 705.1,2243.9 707.1,2244 709.1,2244 711.1,2244 713.1,2244 715.1,2244 717.1,2244 719.1,2244.1 721.1,2244.1 723.1,2244.1 725,2244.1 727,2244.1 729,2244.1 731,2244.1 733,2244.1 735,2244.1 737,2244.1 739,2244.1 741,2244.1 743,2244.1 745,2244.1 747,2244.2 749,2244.2 751,2244.2 753,2244.2 755,2244.2 757,2244.2 759,2244.2 761,2244.2 763,2244.2 765,2244.2 767,2244.2 769,2244.2 770.9,2244.2 772.9,2244.2 774.9,2244.2 776.9,2244.2 778.9,2244.2 780.9,2244.2 782.9,2244.2 784.9,2244.2 786.9,2244.2 788.9,2244.2 790.9,2244.2 792.9,2244.2 794.9,2244.2 796.9,2244.2 798.9,2244.2 800.9,2244.2 802.9,2244.2 804.9,2244.2 806.9,2244.2 808.9,2244.2 810.9,2244.2 812.9,2244.2 814.8,2244.2 816.8,2244.2 818.8,2244.2 820.8,2244.2 822.8,2244.2 824.8,2244.2 826.8,2244.2 828.8,2244.2 830.8,2244.2 832.8,2244.2 834.8,2244.2 836.8,2244.2 838.8,2244.2 840.8,2244.2 842.8,2244.2 844.8,2244.2 846.8,2244.2 848.8,2244.2 850.8,2244.2 852.8,2244.2 854.8,2244.2 856.8,2244.2 858.7,2244.2 860.7,2244.2 862.7,2244.2 864.7,2244.2 866.7,2244.2 868.7,2244.2 870.7,2244.2 872.7,2244.2 874.7,2244.2 876.7,2244.2 878.7,2244.2 880.7,2244.2"/>
<polyline class="cr" points="145,2200.8 147,2198.2 149,2195.5 151,2192.6 153,2189.7 155,2186.6 157,2183.4 159,2180.1 161,2176.6 163,2173.1 165,2169.4 167,2165.6 169,2161.6 171,2157.6 173,2153.4 175,2149.1 177,2144.7 179,2140.1 181,2135.5 183,2130.8 185,2125.9 187,2121 189,2115.9 191,2110.8 193,2105.6 195,2100.3 197,2094.9 199,2089.5 201,2084 203,2078.5 205,2072.9 207,2067.3 209,2061.7 211,2056 213,2050.3 215,2044.7 217,2039.1 219,2033.4 221,2027.9 223,2022.3 225,2016.9 226.9,2011.5 228.9,2006.1 230.9,2000.9 232.9,1995.8 234.9,1990.8 236.9,1985.9 238.9,1981.1 240.9,1976.5 242.9,1972 244.9,1967.7 246.9,1963.6 248.9,1959.7 250.9,1956 252.9,1952.5 254.9,1949.2 256.9,1946.1 258.9,1943.2 260.9,1940.6 262.9,1938.3 264.9,1936.1 266.9,1934.3 268.9,1932.7 270.9,1931.3 272.9,1930.3 274.9,1929.5 276.9,1929 278.9,1928.7 280.9,1928.8 282.9,1929.1 284.9,1929.6 286.9,1930.5 288.9,1931.6 290.9,1933 292.9,1934.7 294.9,1936.6 296.9,1938.8 298.9,1941.2 300.9,1943.8 302.9,1946.7 304.9,1949.9 306.9,1953.2 308.9,1956.8 310.9,1960.6 312.9,1964.5 314.9,1968.7 316.9,1973 318.9,1977.5 320.9,1982.1 322.9,1986.9 324.9,1991.8 326.9,1996.9 328.9,2002 330.9,2007.3 332.9,2012.6 334.9,2018.1 336.9,2023.5 338.9,2029.1 340.9,2034.7 342.9,2040.3 344.9,2045.9 346.9,2051.6 348.9,2057.2 350.9,2062.9 352.9,2068.5 354.9,2074.1 356.9,2079.7 358.9,2085.2 360.9,2090.7 362.9,2096.1 364.9,2101.5 366.9,2106.7 368.9,2111.9 370.9,2117 372.9,2122.1 374.9,2127 376.9,2131.8 378.9,2136.5 380.9,2141.1 382.9,2145.6 384.9,2150 386.9,2154.3 388.9,2158.5 390.9,2162.5 392.8,2166.4 394.8,2170.2 396.8,2173.8 398.8,2177.4 400.8,2180.8 402.8,2184.1 404.8,2187.3 406.8,2190.3 408.8,2193.3 410.8,2196.1 412.8,2198.8 414.8,2201.4 416.8,2203.8 418.8,2206.2 420.8,2208.5 422.8,2210.6 424.8,2212.7 426.8,2214.6 428.8,2216.5 430.8,2218.2 432.8,2219.9 434.8,2221.5 436.8,2223 438.8,2224.4 440.8,2225.7 442.8,2227 444.8,2228.2 446.8,2229.3 448.8,2230.4 450.8,2231.4 452.8,2232.3 454.8,2233.2 456.8,2234 458.8,2234.7 460.8,2235.5 462.8,2236.1 464.8,2236.8 466.8,2237.3 468.8,2237.9 470.8,2238.4 472.8,2238.9 474.8,2239.3 476.8,2239.7 478.8,2240.1 480.8,2240.4 482.8,2240.7 484.8,2241 486.8,2241.3 488.8,2241.6 490.8,2241.8 492.8,2242 494.8,2242.2 496.8,2242.4 498.8,2242.5 500.8,2242.7 502.8,2242.8 504.8,2243 506.8,2243.1 508.8,2243.2 510.8,2243.3 512.8,2243.4 514.8,2243.5 516.8,2243.5 518.8,2243.6 520.8,2243.7 522.8,2243.7 524.8,2243.8 526.8,2243.8 528.8,2243.8 530.8,2243.9 532.8,2243.9 534.8,2243.9 536.8,2244 538.8,2244 540.8,2244 542.8,2244 544.8,2244.1 546.8,2244.1 548.8,2244.1 550.8,2244.1 552.8,2244.1 554.8,2244.1 556.7,2244.1 558.7,2244.1 560.7,2244.1 562.7,2244.2 564.7,2244.2 566.7,2244.2 568.7,2244.2 570.7,2244.2 572.7,2244.2 574.7,2244.2 576.7,2244.2 578.7,2244.2 580.7,2244.2 582.7,2244.2 584.7,2244.2 586.7,2244.2 588.7,2244.2 590.7,2244.2 592.7,2244.2 594.7,2244.2 596.7,2244.2 598.7,2244.2 600.7,2244.2 602.7,2244.2 604.7,2244.2 606.7,2244.2 608.7,2244.2 610.7,2244.2 612.7,2244.2 614.7,2244.2 616.7,2244.2 618.7,2244.2 620.7,2244.2 622.7,2244.2 624.7,2244.2 626.7,2244.2 628.7,2244.2 630.7,2244.2 632.7,2244.2 634.7,2244.2 636.7,2244.2 638.7,2244.2 640.7,2244.2 642.7,2244.2 644.7,2244.2 646.7,2244.2 648.7,2244.2 650.7,2244.2 652.7,2244.2 654.7,2244.2 656.7,2244.2 658.7,2244.2 660.7,2244.2 662.7,2244.2 664.7,2244.2 666.7,2244.2 668.7,2244.2 670.7,2244.2 672.7,2244.2 674.7,2244.2 676.7,2244.2 678.7,2244.2 680.7,2244.2 682.7,2244.2 684.7,2244.2 686.7,2244.2 688.7,2244.2 690.7,2244.2 692.7,2244.2 694.7,2244.2 696.7,2244.2 698.7,2244.2 700.7,2244.2 702.7,2244.2 704.7,2244.2 706.7,2244.2 708.7,2244.2 710.7,2244.2 712.7,2244.2 714.7,2244.2 716.7,2244.2 718.7,2244.2 720.6,2244.2 722.6,2244.2 724.6,2244.2 726.6,2244.2 728.6,2244.2 730.6,2244.2 732.6,2244.2 734.6,2244.2 736.6,2244.2 738.6,2244.2 740.6,2244.2 742.6,2244.2 744.6,2244.2 746.6,2244.2 748.6,2244.2 750.6,2244.2 752.6,2244.2 754.6,2244.2 756.6,2244.2 758.6,2244.2 760.6,2244.2 762.6,2244.2 764.6,2244.2 766.6,2244.2 768.6,2244.2 770.6,2244.2 772.6,2244.2 774.6,2244.2 776.6,2244.2 778.6,2244.2 780.6,2244.2 782.6,2244.2 784.6,2244.2 786.6,2244.2 788.6,2244.2 790.6,2244.2 792.6,2244.2 794.6,2244.2 796.6,2244.2 798.6,2244.2 800.6,2244.2"/>
<line class="ax" x1="71.2" y1="1827" x2="71.2" y2="2260.4"/>
<line class="ax" x1="70.2" y1="2259.4" x2="897.4" y2="2259.4"/>
<line class="tk" x1="62.2" y1="2244.2" x2="71.2" y2="2244.2"/>
<text class="t r m" transform="translate(50.2 2244.2) rotate(-90)">0</text>
<line class="tk" x1="62.2" y1="2109.8" x2="71.2" y2="2109.8"/>
<text class="t r m" transform="translate(50.2 2109) rotate(-90) scale(.86 1)">.5</text>
<line class="tk" x1="62.2" y1="1975.4" x2="71.2" y2="1975.4"/>
<text class="t r m" transform="translate(50.2 1975.4) rotate(-90)">1</text>
<line class="tk" x1="62.2" y1="1841" x2="71.2" y2="1841"/>
<text class="t r m" transform="translate(50.2 1841) rotate(-90)">1.5</text>
<line class="tk" x1="84.9" y1="2259.4" x2="84.9" y2="2268.4"/>
<text class="t m" x="84.9" y="2294.6">0</text>
<line class="tk" x1="283.9" y1="2259.4" x2="283.9" y2="2268.4"/>
<text class="t m" x="283.9" y="2294.6">1</text>
<line class="tk" x1="482.8" y1="2259.4" x2="482.8" y2="2268.4"/>
<text class="t m" x="482.8" y="2294.6">2</text>
<line class="tk" x1="681.8" y1="2259.4" x2="681.8" y2="2268.4"/>
<text class="t m" x="681.8" y="2294.6">3</text>
<line class="tk" x1="880.7" y1="2259.4" x2="880.7" y2="2268.4"/>
<text class="t m" x="880.7" y="2294.6">4</text>
<text class="t m" x="441.2" y="2323.2" textLength="36" lengthAdjust="spacingAndGlyphs">RPI</text>
<text class="t r m" transform="translate(24 2045.8) rotate(-90)">Density</text>
<text class="ti m" x="484" y="1812" textLength="223" lengthAdjust="spacingAndGlyphs">SDRsex = 0.65</text>
<text class="le" x="7.5" y="1810.4">G</text>
<rect x="664.2" y="1827" width="230.6" height="82.6" fill="#fff"/>
<rect class="lb" x="669.2" y="1831" width="219.6" height="74.6"/>
<line class="cb" x1="680.6" y1="1852.1" x2="768.2" y2="1852.1"/>
<line class="cr" x1="680.6" y1="1884.5" x2="768.2" y2="1884.5"/>
<text class="t" x="782.8" y="1861" textLength="59.5" lengthAdjust="spacingAndGlyphs">Males</text>
<text class="t" x="782.8" y="1893.4" textLength="88.5" lengthAdjust="spacingAndGlyphs">Females</text>
</g>
<g class="panel">
<rect x="1010" y="1825" width="828.7" height="435.2" fill="#fff"/>
<line class="g" x1="1018" y1="2243.9" x2="1837.7" y2="2243.9"/>
<line class="g" x1="1018" y1="2149.2" x2="1837.7" y2="2149.2"/>
<line class="g" x1="1018" y1="2054.6" x2="1837.7" y2="2054.6"/>
<line class="g" x1="1018" y1="1960" x2="1837.7" y2="1960"/>
<line class="g" x1="1018" y1="1865.3" x2="1837.7" y2="1865.3"/>
<polyline class="cb" points="1157.6,2243.9 1159.6,2243.9 1161.6,2243.9 1163.6,2243.9 1165.6,2243.9 1167.6,2243.8 1169.6,2243.8 1171.6,2243.8 1173.6,2243.8 1175.6,2243.8 1177.5,2243.8 1179.5,2243.8 1181.5,2243.8 1183.5,2243.8 1185.5,2243.8 1187.5,2243.7 1189.5,2243.7 1191.5,2243.7 1193.5,2243.7 1195.5,2243.7 1197.5,2243.6 1199.5,2243.6 1201.5,2243.6 1203.5,2243.5 1205.5,2243.5 1207.5,2243.5 1209.5,2243.4 1211.5,2243.4 1213.5,2243.3 1215.4,2243.2 1217.4,2243.2 1219.4,2243.1 1221.4,2243 1223.4,2242.9 1225.4,2242.8 1227.4,2242.7 1229.4,2242.6 1231.4,2242.5 1233.4,2242.4 1235.4,2242.2 1237.4,2242.1 1239.4,2241.9 1241.4,2241.7 1243.4,2241.5 1245.4,2241.3 1247.4,2241.1 1249.4,2240.8 1251.4,2240.6 1253.3,2240.3 1255.3,2240 1257.3,2239.7 1259.3,2239.3 1261.3,2238.9 1263.3,2238.5 1265.3,2238.1 1267.3,2237.6 1269.3,2237.1 1271.3,2236.6 1273.3,2236 1275.3,2235.4 1277.3,2234.7 1279.3,2234 1281.3,2233.3 1283.3,2232.5 1285.3,2231.6 1287.3,2230.7 1289.3,2229.8 1291.2,2228.8 1293.2,2227.7 1295.2,2226.6 1297.2,2225.4 1299.2,2224.1 1301.2,2222.8 1303.2,2221.4 1305.2,2219.9 1307.2,2218.3 1309.2,2216.6 1311.2,2214.9 1313.2,2213.1 1315.2,2211.2 1317.2,2209.1 1319.2,2207 1321.2,2204.8 1323.2,2202.5 1325.2,2200.1 1327.2,2197.5 1329.1,2194.9 1331.1,2192.2 1333.1,2189.3 1335.1,2186.3 1337.1,2183.2 1339.1,2180 1341.1,2176.6 1343.1,2173.1 1345.1,2169.5 1347.1,2165.8 1349.1,2161.9 1351.1,2158 1353.1,2153.8 1355.1,2149.6 1357.1,2145.2 1359.1,2140.7 1361.1,2136.1 1363.1,2131.3 1365.1,2126.4 1367,2121.4 1369,2116.3 1371,2111 1373,2105.7 1375,2100.2 1377,2094.6 1379,2088.9 1381,2083.1 1383,2077.2 1385,2071.2 1387,2065.2 1389,2059 1391,2052.8 1393,2046.5 1395,2040.1 1397,2033.7 1399,2027.2 1401,2020.7 1403,2014.2 1404.9,2007.7 1406.9,2001.1 1408.9,1994.6 1410.9,1988 1412.9,1981.5 1414.9,1974.9 1416.9,1968.5 1418.9,1962 1420.9,1955.7 1422.9,1949.4 1424.9,1943.1 1426.9,1937 1428.9,1931 1430.9,1925 1432.9,1919.2 1434.9,1913.5 1436.9,1908 1438.9,1902.6 1440.9,1897.4 1442.8,1892.4 1444.8,1887.5 1446.8,1882.8 1448.8,1878.4 1450.8,1874.1 1452.8,1870.1 1454.8,1866.2 1456.8,1862.7 1458.8,1859.3 1460.8,1856.2 1462.8,1853.4 1464.8,1850.8 1466.8,1848.5 1468.8,1846.5 1470.8,1844.8 1472.8,1843.3 1474.8,1842.1 1476.8,1841.2 1478.8,1840.6 1480.8,1840.3 1482.7,1840.2 1484.7,1840.5 1486.7,1841 1488.7,1841.8 1490.7,1843 1492.7,1844.4 1494.7,1846 1496.7,1848 1498.7,1850.2 1500.7,1852.7 1502.7,1855.5 1504.7,1858.5 1506.7,1861.8 1508.7,1865.3 1510.7,1869.1 1512.7,1873.1 1514.7,1877.3 1516.7,1881.7 1518.7,1886.3 1520.6,1891.1 1522.6,1896.1 1524.6,1901.3 1526.6,1906.6 1528.6,1912.1 1530.6,1917.8 1532.6,1923.5 1534.6,1929.4 1536.6,1935.5 1538.6,1941.6 1540.6,1947.8 1542.6,1954.1 1544.6,1960.4 1546.6,1966.8 1548.6,1973.3 1550.6,1979.8 1552.6,1986.3 1554.6,1992.9 1556.6,1999.5 1558.5,2006 1560.5,2012.6 1562.5,2019.1 1564.5,2025.6 1566.5,2032.1 1568.5,2038.5 1570.5,2044.9 1572.5,2051.2 1574.5,2057.4 1576.5,2063.6 1578.5,2069.7 1580.5,2075.7 1582.5,2081.6 1584.5,2087.5 1586.5,2093.2 1588.5,2098.8 1590.5,2104.3 1592.5,2109.7 1594.5,2115 1596.4,2120.1 1598.4,2125.2 1600.4,2130.1 1602.4,2134.9 1604.4,2139.5 1606.4,2144.1 1608.4,2148.5 1610.4,2152.8 1612.4,2156.9 1614.4,2160.9 1616.4,2164.8 1618.4,2168.6 1620.4,2172.2 1622.4,2175.7 1624.4,2179.1 1626.4,2182.4 1628.4,2185.5 1630.4,2188.5 1632.4,2191.4 1634.3,2194.2 1636.3,2196.9 1638.3,2199.4 1640.3,2201.9 1642.3,2204.2 1644.3,2206.5 1646.3,2208.6 1648.3,2210.7 1650.3,2212.6 1652.3,2214.4 1654.3,2216.2 1656.3,2217.9 1658.3,2219.5 1660.3,2221 1662.3,2222.4 1664.3,2223.8 1666.3,2225.1 1668.3,2226.3 1670.3,2227.4 1672.2,2228.5 1674.2,2229.5 1676.2,2230.5 1678.2,2231.4 1680.2,2232.3 1682.2,2233.1 1684.2,2233.8 1686.2,2234.5 1688.2,2235.2 1690.2,2235.8 1692.2,2236.4 1694.2,2237 1696.2,2237.5 1698.2,2238 1700.2,2238.4 1702.2,2238.8 1704.2,2239.2 1706.2,2239.6 1708.2,2239.9 1710.1,2240.2 1712.1,2240.5 1714.1,2240.8 1716.1,2241 1718.1,2241.3 1720.1,2241.5 1722.1,2241.7 1724.1,2241.9 1726.1,2242 1728.1,2242.2 1730.1,2242.3 1732.1,2242.5 1734.1,2242.6 1736.1,2242.7 1738.1,2242.8 1740.1,2242.9 1742.1,2243 1744.1,2243.1 1746.1,2243.2 1748,2243.2 1750,2243.3 1752,2243.3 1754,2243.4 1756,2243.4 1758,2243.5 1760,2243.5 1762,2243.6 1764,2243.6 1766,2243.6 1768,2243.6 1770,2243.7 1772,2243.7 1774,2243.7 1776,2243.7 1778,2243.8 1780,2243.8 1782,2243.8 1784,2243.8 1785.9,2243.8 1787.9,2243.8 1789.9,2243.8 1791.9,2243.8 1793.9,2243.8 1795.9,2243.8 1797.9,2243.9 1799.9,2243.9 1801.9,2243.9 1803.9,2243.9"/>
<polyline class="cr" points="1033.2,2243.9 1035.2,2243.9 1037.2,2243.9 1039.2,2243.9 1041.2,2243.9 1043.2,2243.9 1045.2,2243.9 1047.2,2243.9 1049.2,2243.9 1051.2,2243.9 1053.2,2243.9 1055.1,2243.9 1057.1,2243.9 1059.1,2243.9 1061.1,2243.9 1063.1,2243.9 1065.1,2243.9 1067.1,2243.9 1069.1,2243.9 1071.1,2243.9 1073.1,2243.9 1075.1,2243.9 1077.1,2243.9 1079.1,2243.9 1081.1,2243.9 1083.1,2243.9 1085.1,2243.9 1087.1,2243.9 1089.1,2243.8 1091.1,2243.8 1093.1,2243.8 1095,2243.8 1097,2243.8 1099,2243.8 1101,2243.8 1103,2243.8 1105,2243.8 1107,2243.8 1109,2243.8 1111,2243.7 1113,2243.7 1115,2243.7 1117,2243.7 1119,2243.7 1121,2243.7 1123,2243.6 1125,2243.6 1127,2243.6 1129,2243.6 1131,2243.5 1133,2243.5 1135,2243.4 1136.9,2243.4 1138.9,2243.4 1140.9,2243.3 1142.9,2243.2 1144.9,2243.2 1146.9,2243.1 1148.9,2243.1 1150.9,2243 1152.9,2242.9 1154.9,2242.8 1156.9,2242.7 1158.9,2242.6 1160.9,2242.5 1162.9,2242.4 1164.9,2242.3 1166.9,2242.1 1168.9,2242 1170.9,2241.8 1172.9,2241.7 1174.9,2241.5 1176.8,2241.3 1178.8,2241.1 1180.8,2240.9 1182.8,2240.6 1184.8,2240.4 1186.8,2240.1 1188.8,2239.8 1190.8,2239.5 1192.8,2239.2 1194.8,2238.8 1196.8,2238.4 1198.8,2238 1200.8,2237.6 1202.8,2237.2 1204.8,2236.7 1206.8,2236.2 1208.8,2235.6 1210.8,2235.1 1212.8,2234.5 1214.8,2233.8 1216.8,2233.1 1218.7,2232.4 1220.7,2231.7 1222.7,2230.9 1224.7,2230 1226.7,2229.1 1228.7,2228.2 1230.7,2227.2 1232.7,2226.2 1234.7,2225.1 1236.7,2223.9 1238.7,2222.7 1240.7,2221.4 1242.7,2220.1 1244.7,2218.7 1246.7,2217.3 1248.7,2215.8 1250.7,2214.2 1252.7,2212.5 1254.7,2210.8 1256.7,2208.9 1258.6,2207.1 1260.6,2205.1 1262.6,2203 1264.6,2200.9 1266.6,2198.7 1268.6,2196.4 1270.6,2194 1272.6,2191.5 1274.6,2189 1276.6,2186.3 1278.6,2183.5 1280.6,2180.7 1282.6,2177.8 1284.6,2174.7 1286.6,2171.6 1288.6,2168.4 1290.6,2165 1292.6,2161.6 1294.6,2158.1 1296.6,2154.5 1298.6,2150.7 1300.5,2146.9 1302.5,2143 1304.5,2139 1306.5,2134.9 1308.5,2130.7 1310.5,2126.4 1312.5,2122.1 1314.5,2117.6 1316.5,2113 1318.5,2108.4 1320.5,2103.7 1322.5,2098.9 1324.5,2094.1 1326.5,2089.1 1328.5,2084.1 1330.5,2079.1 1332.5,2073.9 1334.5,2068.8 1336.5,2063.5 1338.5,2058.3 1340.4,2052.9 1342.4,2047.6 1344.4,2042.2 1346.4,2036.8 1348.4,2031.4 1350.4,2026 1352.4,2020.5 1354.4,2015.1 1356.4,2009.6 1358.4,2004.2 1360.4,1998.8 1362.4,1993.5 1364.4,1988.1 1366.4,1982.8 1368.4,1977.6 1370.4,1972.4 1372.4,1967.3 1374.4,1962.2 1376.4,1957.3 1378.4,1952.4 1380.4,1947.6 1382.3,1942.9 1384.3,1938.3 1386.3,1933.8 1388.3,1929.5 1390.3,1925.3 1392.3,1921.2 1394.3,1917.2 1396.3,1913.4 1398.3,1909.8 1400.3,1906.3 1402.3,1903 1404.3,1899.9 1406.3,1896.9 1408.3,1894.1 1410.3,1891.5 1412.3,1889.1 1414.3,1886.9 1416.3,1884.9 1418.3,1883.1 1420.3,1881.6 1422.3,1880.2 1424.2,1879 1426.2,1878.1 1428.2,1877.3 1430.2,1876.8 1432.2,1876.5 1434.2,1876.4 1436.2,1876.5 1438.2,1876.9 1440.2,1877.5 1442.2,1878.2 1444.2,1879.2 1446.2,1880.5 1448.2,1881.9 1450.2,1883.5 1452.2,1885.4 1454.2,1887.4 1456.2,1889.7 1458.2,1892.1 1460.2,1894.7 1462.2,1897.6 1464.1,1900.6 1466.1,1903.7 1468.1,1907.1 1470.1,1910.6 1472.1,1914.3 1474.1,1918.1 1476.1,1922.1 1478.1,1926.2 1480.1,1930.4 1482.1,1934.8 1484.1,1939.3 1486.1,1943.9 1488.1,1948.6 1490.1,1953.5 1492.1,1958.4 1494.1,1963.3 1496.1,1968.4 1498.1,1973.6 1500.1,1978.8 1502.1,1984 1504.1,1989.3 1506,1994.7 1508,2000 1510,2005.4 1512,2010.8 1514,2016.3 1516,2021.7 1518,2027.2 1520,2032.6 1522,2038 1524,2043.4 1526,2048.8 1528,2054.1 1530,2059.4 1532,2064.7 1534,2069.9 1536,2075.1 1538,2080.2 1540,2085.2 1542,2090.2 1544,2095.1 1545.9,2100 1547.9,2104.8 1549.9,2109.4 1551.9,2114.1 1553.9,2118.6 1555.9,2123 1557.9,2127.4 1559.9,2131.6 1561.9,2135.8 1563.9,2139.9 1565.9,2143.9 1567.9,2147.8 1569.9,2151.6 1571.9,2155.3 1573.9,2158.9 1575.9,2162.4 1577.9,2165.8 1579.9,2169.1 1581.9,2172.3 1583.9,2175.4 1585.9,2178.4 1587.8,2181.3 1589.8,2184.2 1591.8,2186.9 1593.8,2189.5 1595.8,2192.1 1597.8,2194.5 1599.8,2196.9 1601.8,2199.2 1603.8,2201.4 1605.8,2203.5 1607.8,2205.5 1609.8,2207.5 1611.8,2209.4 1613.8,2211.1 1615.8,2212.9 1617.8,2214.5 1619.8,2216.1 1621.8,2217.6 1623.8,2219 1625.8,2220.4 1627.7,2221.7 1629.7,2223 1631.7,2224.2 1633.7,2225.3 1635.7,2226.4 1637.7,2227.4 1639.7,2228.4 1641.7,2229.3 1643.7,2230.2 1645.7,2231 1647.7,2231.8 1649.7,2232.6 1651.7,2233.3 1653.7,2234 1655.7,2234.6 1657.7,2235.2 1659.7,2235.8 1661.7,2236.3 1663.7,2236.8 1665.7,2237.3 1667.7,2237.7 1669.6,2238.1 1671.6,2238.5 1673.6,2238.9 1675.6,2239.2 1677.6,2239.6 1679.6,2239.9 1681.6,2240.2 1683.6,2240.4 1685.6,2240.7 1687.6,2240.9 1689.6,2241.1 1691.6,2241.3 1693.6,2241.5 1695.6,2241.7 1697.6,2241.9 1699.6,2242 1701.6,2242.2 1703.6,2242.3 1705.6,2242.4 1707.6,2242.5 1709.5,2242.6 1711.5,2242.7 1713.5,2242.8 1715.5,2242.9 1717.5,2243 1719.5,2243.1 1721.5,2243.1 1723.5,2243.2 1725.5,2243.3 1727.5,2243.3 1729.5,2243.4"/>
<line class="ax" x1="1014" y1="1827" x2="1014" y2="2261.2"/>
<line class="ax" x1="1013" y1="2260.2" x2="1839.7" y2="2260.2"/>
<line class="tk" x1="1005" y1="2243.9" x2="1014" y2="2243.9"/>
<text class="t r m" transform="translate(993 2243.9) rotate(-90)">0</text>
<line class="tk" x1="1005" y1="2149.2" x2="1014" y2="2149.2"/>
<text class="t r m" transform="translate(993 2148.4) rotate(-90) scale(.86 1)">.05</text>
<line class="tk" x1="1005" y1="2054.6" x2="1014" y2="2054.6"/>
<text class="t r m" transform="translate(993 2053.8) rotate(-90) scale(.86 1)">.1</text>
<line class="tk" x1="1005" y1="1960" x2="1014" y2="1960"/>
<text class="t r m" transform="translate(993 1959.2) rotate(-90) scale(.86 1)">.15</text>
<line class="tk" x1="1005" y1="1865.3" x2="1014" y2="1865.3"/>
<text class="t r m" transform="translate(993 1864.5) rotate(-90) scale(.86 1)">.2</text>
<line class="tk" x1="1027.6" y1="2260.2" x2="1027.6" y2="2269.2"/>
<text class="t m" x="1027.6" y="2295.4">20</text>
<line class="tk" x1="1226.5" y1="2260.2" x2="1226.5" y2="2269.2"/>
<text class="t m" x="1226.5" y="2295.4">25</text>
<line class="tk" x1="1425.4" y1="2260.2" x2="1425.4" y2="2269.2"/>
<text class="t m" x="1425.4" y="2295.4">30</text>
<line class="tk" x1="1624.4" y1="2260.2" x2="1624.4" y2="2269.2"/>
<text class="t m" x="1624.4" y="2295.4">35</text>
<line class="tk" x1="1823.3" y1="2260.2" x2="1823.3" y2="2269.2"/>
<text class="t m" x="1823.3" y="2295.4">40</text>
<text class="t m" x="1433" y="2325.3" textLength="113.4" lengthAdjust="spacingAndGlyphs">RBC-Z [ch]</text>
<text class="t r m" transform="translate(965 2042.5) rotate(-90)">Density</text>
<text class="ti m" x="1426" y="1812.2" textLength="223" lengthAdjust="spacingAndGlyphs">SDRsex = 0.42</text>
<text class="le" x="936.5" y="1811.4">H</text>
<rect x="1610" y="1829.1" width="228.7" height="83.8" fill="#fff"/>
<rect class="lb" x="1615" y="1833.1" width="218.9" height="75.8"/>
<line class="cb" x1="1625.6" y1="1854.8" x2="1713.8" y2="1854.8"/>
<line class="cr" x1="1625.6" y1="1887.2" x2="1713.8" y2="1887.2"/>
<text class="t" x="1728.4" y="1863.7" textLength="59.5" lengthAdjust="spacingAndGlyphs">Males</text>
<text class="t" x="1728.4" y="1896.1" textLength="88.5" lengthAdjust="spacingAndGlyphs">Females</text>
</g>
</svg>
</body>
</html>
